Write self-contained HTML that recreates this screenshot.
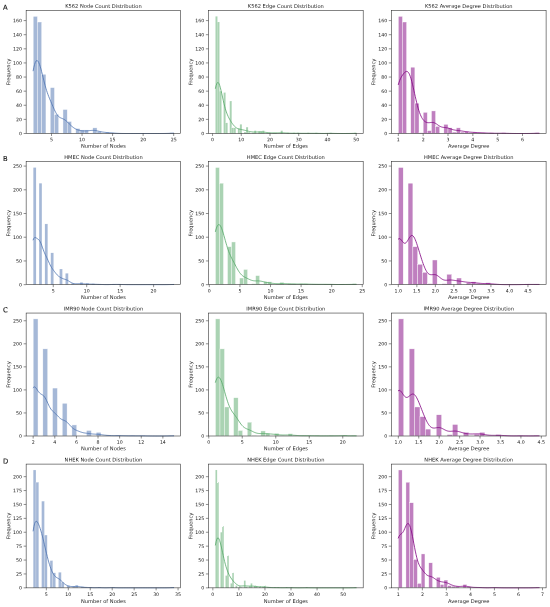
<!DOCTYPE html>
<html><head><meta charset="utf-8"><title>Graph distributions</title>
<style>html,body{margin:0;padding:0;background:#fff}svg{display:block;text-rendering:geometricPrecision}.k{font-size:4.7px}</style></head>
<body>
<svg width="550" height="607" viewBox="0 0 550 607" font-family="'DejaVu Sans','Liberation Sans',sans-serif" fill="#1a1a1a">
<rect width="550" height="607" fill="#fff"/>
<g>
<rect x="33.17" y="16.36" width="4.26" height="117.14" fill="#4c72b0" fill-opacity="0.5" stroke="#fff" stroke-width="0.400"/>
<rect x="37.43" y="22.00" width="4.26" height="111.50" fill="#4c72b0" fill-opacity="0.5" stroke="#fff" stroke-width="0.400"/>
<rect x="41.69" y="74.22" width="4.26" height="59.28" fill="#4c72b0" fill-opacity="0.5" stroke="#fff" stroke-width="0.400"/>
<rect x="50.21" y="87.63" width="4.26" height="45.87" fill="#4c72b0" fill-opacity="0.5" stroke="#fff" stroke-width="0.400"/>
<rect x="54.46" y="114.45" width="4.26" height="19.05" fill="#4c72b0" fill-opacity="0.5" stroke="#fff" stroke-width="0.400"/>
<rect x="62.98" y="109.51" width="4.26" height="23.99" fill="#4c72b0" fill-opacity="0.5" stroke="#fff" stroke-width="0.400"/>
<rect x="67.24" y="121.50" width="4.26" height="12.00" fill="#4c72b0" fill-opacity="0.5" stroke="#fff" stroke-width="0.400"/>
<rect x="75.75" y="128.56" width="4.26" height="4.94" fill="#4c72b0" fill-opacity="0.5" stroke="#fff" stroke-width="0.400"/>
<rect x="80.01" y="129.97" width="4.26" height="3.53" fill="#4c72b0" fill-opacity="0.5" stroke="#fff" stroke-width="0.400"/>
<rect x="84.27" y="129.97" width="4.26" height="3.53" fill="#4c72b0" fill-opacity="0.5" stroke="#fff" stroke-width="0.400"/>
<rect x="92.78" y="127.85" width="4.26" height="5.65" fill="#4c72b0" fill-opacity="0.5" stroke="#fff" stroke-width="0.400"/>
<rect x="97.04" y="131.38" width="4.26" height="2.12" fill="#4c72b0" fill-opacity="0.5" stroke="#fff" stroke-width="0.400"/>
<rect x="105.55" y="132.09" width="4.26" height="1.41" fill="#4c72b0" fill-opacity="0.5" stroke="#fff" stroke-width="0.400"/>
<rect x="109.81" y="132.79" width="4.26" height="0.71" fill="#4c72b0" fill-opacity="0.5" stroke="#fff" stroke-width="0.400"/>
<rect x="169.42" y="132.79" width="4.26" height="0.71" fill="#4c72b0" fill-opacity="0.5" stroke="#fff" stroke-width="0.400"/>
<polyline points="33.17,70.77 33.88,67.21 34.59,64.41 35.29,62.40 36.00,61.14 36.71,60.59 37.41,60.70 38.12,61.42 38.82,62.67 39.53,64.39 40.24,66.52 40.94,68.96 41.65,71.65 42.35,74.48 43.06,77.38 43.77,80.25 44.47,83.04 45.18,85.69 45.88,88.18 46.59,90.49 47.30,92.63 48.00,94.62 48.71,96.47 49.41,98.23 50.12,99.92 50.83,101.58 51.53,103.22 52.24,104.86 52.94,106.49 53.65,108.10 54.36,109.66 55.06,111.14 55.77,112.52 56.47,113.75 57.18,114.83 57.89,115.74 58.59,116.49 59.30,117.08 60.00,117.54 60.71,117.90 61.42,118.20 62.12,118.48 62.83,118.77 63.53,119.10 64.24,119.49 64.95,119.95 65.65,120.47 66.36,121.07 67.06,121.71 67.77,122.39 68.48,123.09 69.18,123.80 69.89,124.49 70.59,125.17 71.30,125.83 72.01,126.45 72.71,127.03 73.42,127.57 74.12,128.06 74.83,128.51 75.54,128.91 76.24,129.27 76.95,129.58 77.65,129.84 78.36,130.07 79.07,130.26 79.77,130.43 80.48,130.56 81.19,130.66 81.89,130.75 82.60,130.81 83.30,130.85 84.01,130.88 84.72,130.89 85.42,130.89 86.13,130.87 86.83,130.83 87.54,130.79 88.25,130.73 88.95,130.66 89.66,130.59 90.36,130.52 91.07,130.46 91.78,130.41 92.48,130.38 93.19,130.38 93.89,130.40 94.60,130.45 95.31,130.54 96.01,130.65 96.72,130.78 97.42,130.94 98.13,131.10 98.84,131.27 99.54,131.43 100.25,131.59 100.95,131.74 101.66,131.87 102.37,132.00 103.07,132.11 103.78,132.20 104.48,132.29 105.19,132.37 105.90,132.44 106.60,132.51 107.31,132.57 108.01,132.63 108.72,132.69 109.43,132.75 110.13,132.81 110.84,132.87 111.54,132.92 112.25,132.98 112.96,133.03 113.66,133.08 114.37,133.14 115.07,133.19 115.78,133.23 116.49,133.28 117.19,133.32 117.90,133.35 118.60,133.38 119.31,133.41 120.02,133.43 120.72,133.45 121.43,133.46 122.13,133.48 122.84,133.48 123.55,133.49 124.25,133.49 124.96,133.50 125.66,133.50 126.37,133.50 127.08,133.50 127.78,133.50 128.49,133.50 129.20,133.50 129.90,133.50 130.61,133.50 131.31,133.50 132.02,133.50 132.73,133.50 133.43,133.50 134.14,133.50 134.84,133.50 135.55,133.50 136.26,133.50 136.96,133.50 137.67,133.50 138.37,133.50 139.08,133.50 139.79,133.50 140.49,133.50 141.20,133.50 141.90,133.50 142.61,133.50 143.32,133.50 144.02,133.50 144.73,133.50 145.43,133.50 146.14,133.50 146.85,133.50 147.55,133.50 148.26,133.50 148.96,133.50 149.67,133.50 150.38,133.50 151.08,133.50 151.79,133.50 152.49,133.50 153.20,133.50 153.91,133.50 154.61,133.50 155.32,133.50 156.02,133.50 156.73,133.50 157.44,133.50 158.14,133.50 158.85,133.50 159.55,133.50 160.26,133.50 160.97,133.50 161.67,133.49 162.38,133.49 163.08,133.49 163.79,133.48 164.50,133.47 165.20,133.46 165.91,133.45 166.61,133.43 167.32,133.41 168.03,133.38 168.73,133.36 169.44,133.33 170.14,133.30 170.85,133.28 171.56,133.25 172.26,133.24 172.97,133.23 173.68,133.22" fill="none" stroke="#4c72b0" stroke-width="0.8" stroke-linejoin="round" stroke-linecap="round"/>
<rect x="26.15" y="10.50" width="154.55" height="123.00" fill="none" stroke="#2e2e2e" stroke-width="0.58"/>
<line x1="51.50" y1="133.50" x2="51.50" y2="136.00" stroke="#2e2e2e" stroke-width="0.53"/>
<text transform="translate(51.50,141.25) rotate(.1)" class="k" text-anchor="middle">5</text>
<line x1="82.04" y1="133.50" x2="82.04" y2="136.00" stroke="#2e2e2e" stroke-width="0.53"/>
<text transform="translate(82.04,141.25) rotate(.1)" class="k" text-anchor="middle">10</text>
<line x1="112.59" y1="133.50" x2="112.59" y2="136.00" stroke="#2e2e2e" stroke-width="0.53"/>
<text transform="translate(112.59,141.25) rotate(.1)" class="k" text-anchor="middle">15</text>
<line x1="143.13" y1="133.50" x2="143.13" y2="136.00" stroke="#2e2e2e" stroke-width="0.53"/>
<text transform="translate(143.13,141.25) rotate(.1)" class="k" text-anchor="middle">20</text>
<line x1="173.68" y1="133.50" x2="173.68" y2="136.00" stroke="#2e2e2e" stroke-width="0.53"/>
<text transform="translate(173.68,141.25) rotate(.1)" class="k" text-anchor="middle">25</text>
<line x1="23.65" y1="133.50" x2="26.15" y2="133.50" stroke="#2e2e2e" stroke-width="0.53"/>
<text transform="translate(22.05,135.25) rotate(.1)" class="k" text-anchor="end">0</text>
<line x1="23.65" y1="119.39" x2="26.15" y2="119.39" stroke="#2e2e2e" stroke-width="0.53"/>
<text transform="translate(22.05,121.14) rotate(.1)" class="k" text-anchor="end">20</text>
<line x1="23.65" y1="105.27" x2="26.15" y2="105.27" stroke="#2e2e2e" stroke-width="0.53"/>
<text transform="translate(22.05,107.02) rotate(.1)" class="k" text-anchor="end">40</text>
<line x1="23.65" y1="91.16" x2="26.15" y2="91.16" stroke="#2e2e2e" stroke-width="0.53"/>
<text transform="translate(22.05,92.91) rotate(.1)" class="k" text-anchor="end">60</text>
<line x1="23.65" y1="77.05" x2="26.15" y2="77.05" stroke="#2e2e2e" stroke-width="0.53"/>
<text transform="translate(22.05,78.80) rotate(.1)" class="k" text-anchor="end">80</text>
<line x1="23.65" y1="62.93" x2="26.15" y2="62.93" stroke="#2e2e2e" stroke-width="0.53"/>
<text transform="translate(22.05,64.68) rotate(.1)" class="k" text-anchor="end">100</text>
<line x1="23.65" y1="48.82" x2="26.15" y2="48.82" stroke="#2e2e2e" stroke-width="0.53"/>
<text transform="translate(22.05,50.57) rotate(.1)" class="k" text-anchor="end">120</text>
<line x1="23.65" y1="34.70" x2="26.15" y2="34.70" stroke="#2e2e2e" stroke-width="0.53"/>
<text transform="translate(22.05,36.45) rotate(.1)" class="k" text-anchor="end">140</text>
<line x1="23.65" y1="20.59" x2="26.15" y2="20.59" stroke="#2e2e2e" stroke-width="0.53"/>
<text transform="translate(22.05,22.34) rotate(.1)" class="k" text-anchor="end">160</text>
<text transform="translate(103.43,7.90) rotate(.1)" font-size="5.13" text-anchor="middle">K562 Node Count Distribution</text>
<text transform="translate(103.43,147.80) rotate(.1)" font-size="5.13" text-anchor="middle">Number of Nodes</text>
<text transform="translate(10.15,72.00) rotate(-89.9)" font-size="5.13" text-anchor="middle">Frequency</text>
</g>
<g>
<rect x="215.44" y="16.36" width="2.04" height="117.14" fill="#55a868" fill-opacity="0.5" stroke="#fff" stroke-width="0.104"/>
<rect x="217.48" y="22.00" width="2.04" height="111.50" fill="#55a868" fill-opacity="0.5" stroke="#fff" stroke-width="0.104"/>
<rect x="219.52" y="91.16" width="2.04" height="42.34" fill="#55a868" fill-opacity="0.5" stroke="#fff" stroke-width="0.104"/>
<rect x="223.59" y="92.57" width="2.04" height="40.93" fill="#55a868" fill-opacity="0.5" stroke="#fff" stroke-width="0.104"/>
<rect x="225.63" y="122.91" width="2.04" height="10.59" fill="#55a868" fill-opacity="0.5" stroke="#fff" stroke-width="0.104"/>
<rect x="229.71" y="101.04" width="2.04" height="32.46" fill="#55a868" fill-opacity="0.5" stroke="#fff" stroke-width="0.104"/>
<rect x="231.75" y="127.85" width="2.04" height="5.65" fill="#55a868" fill-opacity="0.5" stroke="#fff" stroke-width="0.104"/>
<rect x="233.79" y="127.85" width="2.04" height="5.65" fill="#55a868" fill-opacity="0.5" stroke="#fff" stroke-width="0.104"/>
<rect x="237.87" y="128.56" width="2.04" height="4.94" fill="#55a868" fill-opacity="0.5" stroke="#fff" stroke-width="0.104"/>
<rect x="239.91" y="124.33" width="2.04" height="9.17" fill="#55a868" fill-opacity="0.5" stroke="#fff" stroke-width="0.104"/>
<rect x="243.99" y="132.09" width="2.04" height="1.41" fill="#55a868" fill-opacity="0.5" stroke="#fff" stroke-width="0.104"/>
<rect x="246.03" y="127.15" width="2.04" height="6.35" fill="#55a868" fill-opacity="0.5" stroke="#fff" stroke-width="0.104"/>
<rect x="248.07" y="132.09" width="2.04" height="1.41" fill="#55a868" fill-opacity="0.5" stroke="#fff" stroke-width="0.104"/>
<rect x="252.15" y="132.79" width="2.04" height="0.71" fill="#55a868" fill-opacity="0.5" stroke="#fff" stroke-width="0.104"/>
<rect x="254.19" y="130.68" width="2.04" height="2.82" fill="#55a868" fill-opacity="0.5" stroke="#fff" stroke-width="0.104"/>
<rect x="258.27" y="131.38" width="2.04" height="2.12" fill="#55a868" fill-opacity="0.5" stroke="#fff" stroke-width="0.104"/>
<rect x="260.31" y="131.38" width="2.04" height="2.12" fill="#55a868" fill-opacity="0.5" stroke="#fff" stroke-width="0.104"/>
<rect x="262.35" y="130.68" width="2.04" height="2.82" fill="#55a868" fill-opacity="0.5" stroke="#fff" stroke-width="0.104"/>
<rect x="266.42" y="132.79" width="2.04" height="0.71" fill="#55a868" fill-opacity="0.5" stroke="#fff" stroke-width="0.104"/>
<rect x="268.46" y="132.79" width="2.04" height="0.71" fill="#55a868" fill-opacity="0.5" stroke="#fff" stroke-width="0.104"/>
<rect x="272.54" y="132.79" width="2.04" height="0.71" fill="#55a868" fill-opacity="0.5" stroke="#fff" stroke-width="0.104"/>
<rect x="274.58" y="132.79" width="2.04" height="0.71" fill="#55a868" fill-opacity="0.5" stroke="#fff" stroke-width="0.104"/>
<rect x="280.70" y="130.68" width="2.04" height="2.82" fill="#55a868" fill-opacity="0.5" stroke="#fff" stroke-width="0.104"/>
<rect x="286.82" y="132.79" width="2.04" height="0.71" fill="#55a868" fill-opacity="0.5" stroke="#fff" stroke-width="0.104"/>
<rect x="292.94" y="132.79" width="2.04" height="0.71" fill="#55a868" fill-opacity="0.5" stroke="#fff" stroke-width="0.104"/>
<rect x="297.02" y="132.79" width="2.04" height="0.71" fill="#55a868" fill-opacity="0.5" stroke="#fff" stroke-width="0.104"/>
<rect x="307.22" y="132.79" width="2.04" height="0.71" fill="#55a868" fill-opacity="0.5" stroke="#fff" stroke-width="0.104"/>
<rect x="315.37" y="132.79" width="2.04" height="0.71" fill="#55a868" fill-opacity="0.5" stroke="#fff" stroke-width="0.104"/>
<rect x="329.65" y="132.79" width="2.04" height="0.71" fill="#55a868" fill-opacity="0.5" stroke="#fff" stroke-width="0.104"/>
<rect x="354.12" y="132.79" width="2.04" height="0.71" fill="#55a868" fill-opacity="0.5" stroke="#fff" stroke-width="0.104"/>
<polyline points="215.44,88.38 216.14,85.49 216.85,83.54 217.56,82.58 218.27,82.62 218.97,83.59 219.68,85.37 220.39,87.79 221.09,90.67 221.80,93.82 222.51,97.07 223.22,100.28 223.92,103.35 224.63,106.18 225.34,108.76 226.04,111.05 226.75,113.08 227.46,114.86 228.17,116.45 228.87,117.88 229.58,119.19 230.29,120.41 230.99,121.56 231.70,122.64 232.41,123.67 233.12,124.63 233.82,125.51 234.53,126.29 235.24,126.97 235.94,127.55 236.65,128.02 237.36,128.39 238.07,128.69 238.77,128.93 239.48,129.12 240.19,129.28 240.89,129.43 241.60,129.58 242.31,129.73 243.02,129.88 243.72,130.04 244.43,130.21 245.14,130.39 245.84,130.56 246.55,130.74 247.26,130.92 247.97,131.10 248.67,131.27 249.38,131.43 250.09,131.58 250.79,131.71 251.50,131.82 252.21,131.91 252.92,131.97 253.62,132.01 254.33,132.03 255.04,132.04 255.75,132.03 256.45,132.02 257.16,132.00 257.87,131.98 258.57,131.97 259.28,131.97 259.99,131.97 260.70,131.98 261.40,132.00 262.11,132.04 262.82,132.08 263.52,132.14 264.23,132.20 264.94,132.27 265.65,132.35 266.35,132.44 267.06,132.52 267.77,132.60 268.47,132.68 269.18,132.75 269.89,132.81 270.60,132.86 271.30,132.90 272.01,132.93 272.72,132.96 273.42,132.97 274.13,132.98 274.84,132.98 275.55,132.97 276.25,132.95 276.96,132.93 277.67,132.90 278.37,132.87 279.08,132.85 279.79,132.82 280.50,132.81 281.20,132.81 281.91,132.81 282.62,132.83 283.32,132.86 284.03,132.90 284.74,132.94 285.45,132.98 286.15,133.03 286.86,133.07 287.57,133.11 288.28,133.15 288.98,133.17 289.69,133.20 290.40,133.21 291.10,133.23 291.81,133.23 292.52,133.24 293.23,133.25 293.93,133.25 294.64,133.25 295.35,133.26 296.05,133.26 296.76,133.27 297.47,133.27 298.18,133.28 298.88,133.29 299.59,133.30 300.30,133.31 301.00,133.32 301.71,133.32 302.42,133.33 303.13,133.33 303.83,133.33 304.54,133.33 305.25,133.33 305.95,133.33 306.66,133.33 307.37,133.33 308.08,133.33 308.78,133.33 309.49,133.33 310.20,133.34 310.90,133.34 311.61,133.34 312.32,133.34 313.03,133.34 313.73,133.34 314.44,133.34 315.15,133.34 315.85,133.34 316.56,133.35 317.27,133.36 317.98,133.37 318.68,133.38 319.39,133.40 320.10,133.41 320.81,133.42 321.51,133.43 322.22,133.44 322.93,133.44 323.63,133.44 324.34,133.44 325.05,133.43 325.76,133.42 326.46,133.41 327.17,133.39 327.88,133.38 328.58,133.37 329.29,133.36 330.00,133.36 330.71,133.36 331.41,133.36 332.12,133.37 332.83,133.38 333.53,133.40 334.24,133.41 334.95,133.43 335.66,133.44 336.36,133.45 337.07,133.47 337.78,133.47 338.48,133.48 339.19,133.49 339.90,133.49 340.61,133.49 341.31,133.50 342.02,133.50 342.73,133.50 343.43,133.50 344.14,133.50 344.85,133.50 345.56,133.50 346.26,133.49 346.97,133.49 347.68,133.48 348.38,133.48 349.09,133.47 349.80,133.46 350.51,133.45 351.21,133.43 351.92,133.42 352.63,133.40 353.33,133.39 354.04,133.38 354.75,133.37 355.46,133.36 356.16,133.36" fill="none" stroke="#55a868" stroke-width="0.8" stroke-linejoin="round" stroke-linecap="round"/>
<rect x="208.40" y="10.50" width="154.80" height="123.00" fill="none" stroke="#2e2e2e" stroke-width="0.58"/>
<line x1="212.56" y1="133.50" x2="212.56" y2="136.00" stroke="#2e2e2e" stroke-width="0.53"/>
<text transform="translate(212.56,141.25) rotate(.1)" class="k" text-anchor="middle">0</text>
<line x1="241.28" y1="133.50" x2="241.28" y2="136.00" stroke="#2e2e2e" stroke-width="0.53"/>
<text transform="translate(241.28,141.25) rotate(.1)" class="k" text-anchor="middle">10</text>
<line x1="270.00" y1="133.50" x2="270.00" y2="136.00" stroke="#2e2e2e" stroke-width="0.53"/>
<text transform="translate(270.00,141.25) rotate(.1)" class="k" text-anchor="middle">20</text>
<line x1="298.72" y1="133.50" x2="298.72" y2="136.00" stroke="#2e2e2e" stroke-width="0.53"/>
<text transform="translate(298.72,141.25) rotate(.1)" class="k" text-anchor="middle">30</text>
<line x1="327.44" y1="133.50" x2="327.44" y2="136.00" stroke="#2e2e2e" stroke-width="0.53"/>
<text transform="translate(327.44,141.25) rotate(.1)" class="k" text-anchor="middle">40</text>
<line x1="356.16" y1="133.50" x2="356.16" y2="136.00" stroke="#2e2e2e" stroke-width="0.53"/>
<text transform="translate(356.16,141.25) rotate(.1)" class="k" text-anchor="middle">50</text>
<line x1="205.90" y1="133.50" x2="208.40" y2="133.50" stroke="#2e2e2e" stroke-width="0.53"/>
<text transform="translate(204.30,135.25) rotate(.1)" class="k" text-anchor="end">0</text>
<line x1="205.90" y1="119.39" x2="208.40" y2="119.39" stroke="#2e2e2e" stroke-width="0.53"/>
<text transform="translate(204.30,121.14) rotate(.1)" class="k" text-anchor="end">20</text>
<line x1="205.90" y1="105.27" x2="208.40" y2="105.27" stroke="#2e2e2e" stroke-width="0.53"/>
<text transform="translate(204.30,107.02) rotate(.1)" class="k" text-anchor="end">40</text>
<line x1="205.90" y1="91.16" x2="208.40" y2="91.16" stroke="#2e2e2e" stroke-width="0.53"/>
<text transform="translate(204.30,92.91) rotate(.1)" class="k" text-anchor="end">60</text>
<line x1="205.90" y1="77.05" x2="208.40" y2="77.05" stroke="#2e2e2e" stroke-width="0.53"/>
<text transform="translate(204.30,78.80) rotate(.1)" class="k" text-anchor="end">80</text>
<line x1="205.90" y1="62.93" x2="208.40" y2="62.93" stroke="#2e2e2e" stroke-width="0.53"/>
<text transform="translate(204.30,64.68) rotate(.1)" class="k" text-anchor="end">100</text>
<line x1="205.90" y1="48.82" x2="208.40" y2="48.82" stroke="#2e2e2e" stroke-width="0.53"/>
<text transform="translate(204.30,50.57) rotate(.1)" class="k" text-anchor="end">120</text>
<line x1="205.90" y1="34.70" x2="208.40" y2="34.70" stroke="#2e2e2e" stroke-width="0.53"/>
<text transform="translate(204.30,36.45) rotate(.1)" class="k" text-anchor="end">140</text>
<line x1="205.90" y1="20.59" x2="208.40" y2="20.59" stroke="#2e2e2e" stroke-width="0.53"/>
<text transform="translate(204.30,22.34) rotate(.1)" class="k" text-anchor="end">160</text>
<text transform="translate(285.80,7.90) rotate(.1)" font-size="5.13" text-anchor="middle">K562 Edge Count Distribution</text>
<text transform="translate(285.80,147.80) rotate(.1)" font-size="5.13" text-anchor="middle">Number of Edges</text>
<text transform="translate(192.40,72.00) rotate(-89.9)" font-size="5.13" text-anchor="middle">Frequency</text>
</g>
<g>
<rect x="398.34" y="16.36" width="4.14" height="117.14" fill="#800080" fill-opacity="0.5" stroke="#fff" stroke-width="0.400"/>
<rect x="402.48" y="22.00" width="4.14" height="111.50" fill="#800080" fill-opacity="0.5" stroke="#fff" stroke-width="0.400"/>
<rect x="410.75" y="67.17" width="4.14" height="66.33" fill="#800080" fill-opacity="0.5" stroke="#fff" stroke-width="0.400"/>
<rect x="414.89" y="103.16" width="4.14" height="30.34" fill="#800080" fill-opacity="0.5" stroke="#fff" stroke-width="0.400"/>
<rect x="419.03" y="132.79" width="4.14" height="0.71" fill="#800080" fill-opacity="0.5" stroke="#fff" stroke-width="0.400"/>
<rect x="423.17" y="112.33" width="4.14" height="21.17" fill="#800080" fill-opacity="0.5" stroke="#fff" stroke-width="0.400"/>
<rect x="427.31" y="130.68" width="4.14" height="2.82" fill="#800080" fill-opacity="0.5" stroke="#fff" stroke-width="0.400"/>
<rect x="431.45" y="110.92" width="4.14" height="22.58" fill="#800080" fill-opacity="0.5" stroke="#fff" stroke-width="0.400"/>
<rect x="435.59" y="126.44" width="4.14" height="7.06" fill="#800080" fill-opacity="0.5" stroke="#fff" stroke-width="0.400"/>
<rect x="443.87" y="124.33" width="4.14" height="9.17" fill="#800080" fill-opacity="0.5" stroke="#fff" stroke-width="0.400"/>
<rect x="448.00" y="127.85" width="4.14" height="5.65" fill="#800080" fill-opacity="0.5" stroke="#fff" stroke-width="0.400"/>
<rect x="452.14" y="132.09" width="4.14" height="1.41" fill="#800080" fill-opacity="0.5" stroke="#fff" stroke-width="0.400"/>
<rect x="456.28" y="127.85" width="4.14" height="5.65" fill="#800080" fill-opacity="0.5" stroke="#fff" stroke-width="0.400"/>
<rect x="460.42" y="132.09" width="4.14" height="1.41" fill="#800080" fill-opacity="0.5" stroke="#fff" stroke-width="0.400"/>
<rect x="464.56" y="131.38" width="4.14" height="2.12" fill="#800080" fill-opacity="0.5" stroke="#fff" stroke-width="0.400"/>
<rect x="468.70" y="132.79" width="4.14" height="0.71" fill="#800080" fill-opacity="0.5" stroke="#fff" stroke-width="0.400"/>
<rect x="472.84" y="132.09" width="4.14" height="1.41" fill="#800080" fill-opacity="0.5" stroke="#fff" stroke-width="0.400"/>
<rect x="476.98" y="132.79" width="4.14" height="0.71" fill="#800080" fill-opacity="0.5" stroke="#fff" stroke-width="0.400"/>
<rect x="481.12" y="132.79" width="4.14" height="0.71" fill="#800080" fill-opacity="0.5" stroke="#fff" stroke-width="0.400"/>
<rect x="489.40" y="132.79" width="4.14" height="0.71" fill="#800080" fill-opacity="0.5" stroke="#fff" stroke-width="0.400"/>
<rect x="501.81" y="132.79" width="4.14" height="0.71" fill="#800080" fill-opacity="0.5" stroke="#fff" stroke-width="0.400"/>
<rect x="534.92" y="132.79" width="4.14" height="0.71" fill="#800080" fill-opacity="0.5" stroke="#fff" stroke-width="0.400"/>
<polyline points="398.34,84.58 399.04,82.29 399.75,80.35 400.46,78.71 401.17,77.31 401.87,76.10 402.58,75.02 403.29,74.05 403.99,73.19 404.70,72.45 405.41,71.87 406.12,71.50 406.82,71.42 407.53,71.66 408.24,72.29 408.94,73.32 409.65,74.77 410.36,76.62 411.07,78.85 411.77,81.40 412.48,84.21 413.19,87.22 413.89,90.36 414.60,93.54 415.31,96.71 416.02,99.80 416.72,102.76 417.43,105.54 418.14,108.12 418.84,110.46 419.55,112.56 420.26,114.42 420.97,116.04 421.67,117.45 422.38,118.64 423.09,119.65 423.79,120.49 424.50,121.17 425.21,121.71 425.92,122.13 426.62,122.42 427.33,122.60 428.04,122.69 428.74,122.70 429.45,122.66 430.16,122.58 430.87,122.50 431.57,122.44 432.28,122.43 432.99,122.49 433.69,122.63 434.40,122.85 435.11,123.17 435.82,123.56 436.52,124.01 437.23,124.50 437.94,125.00 438.65,125.49 439.35,125.94 440.06,126.35 440.77,126.68 441.47,126.95 442.18,127.16 442.89,127.31 443.60,127.42 444.30,127.50 445.01,127.57 445.72,127.64 446.42,127.74 447.13,127.87 447.84,128.03 448.55,128.22 449.25,128.44 449.96,128.68 450.67,128.92 451.37,129.17 452.08,129.40 452.79,129.61 453.50,129.80 454.20,129.97 454.91,130.10 455.62,130.22 456.32,130.31 457.03,130.40 457.74,130.48 458.45,130.56 459.15,130.64 459.86,130.73 460.57,130.82 461.27,130.92 461.98,131.03 462.69,131.14 463.40,131.25 464.10,131.36 464.81,131.47 465.52,131.58 466.22,131.68 466.93,131.77 467.64,131.86 468.35,131.95 469.05,132.03 469.76,132.10 470.47,132.16 471.18,132.22 471.88,132.27 472.59,132.32 473.30,132.36 474.00,132.39 474.71,132.43 475.42,132.46 476.13,132.49 476.83,132.52 477.54,132.56 478.25,132.59 478.95,132.63 479.66,132.66 480.37,132.70 481.08,132.75 481.78,132.79 482.49,132.83 483.20,132.87 483.90,132.91 484.61,132.94 485.32,132.98 486.03,133.01 486.73,133.04 487.44,133.07 488.15,133.09 488.85,133.11 489.56,133.14 490.27,133.16 490.98,133.18 491.68,133.20 492.39,133.22 493.10,133.23 493.80,133.25 494.51,133.26 495.22,133.27 495.93,133.28 496.63,133.28 497.34,133.28 498.05,133.28 498.75,133.27 499.46,133.27 500.17,133.26 500.88,133.26 501.58,133.25 502.29,133.25 503.00,133.26 503.71,133.26 504.41,133.28 505.12,133.29 505.83,133.31 506.53,133.33 507.24,133.35 507.95,133.37 508.66,133.39 509.36,133.41 510.07,133.42 510.78,133.44 511.48,133.45 512.19,133.46 512.90,133.47 513.61,133.48 514.31,133.49 515.02,133.49 515.73,133.49 516.43,133.50 517.14,133.50 517.85,133.50 518.56,133.50 519.26,133.50 519.97,133.50 520.68,133.50 521.38,133.50 522.09,133.50 522.80,133.50 523.51,133.50 524.21,133.50 524.92,133.50 525.63,133.49 526.33,133.49 527.04,133.49 527.75,133.48 528.46,133.48 529.16,133.47 529.87,133.46 530.58,133.45 531.28,133.43 531.99,133.41 532.70,133.40 533.41,133.38 534.11,133.36 534.82,133.34 535.53,133.32 536.23,133.30 536.94,133.29 537.65,133.27 538.36,133.27 539.06,133.27" fill="none" stroke="#800080" stroke-width="0.8" stroke-linejoin="round" stroke-linecap="round"/>
<rect x="391.30" y="10.50" width="154.80" height="123.00" fill="none" stroke="#2e2e2e" stroke-width="0.58"/>
<line x1="398.34" y1="133.50" x2="398.34" y2="136.00" stroke="#2e2e2e" stroke-width="0.53"/>
<text transform="translate(398.34,141.25) rotate(.1)" class="k" text-anchor="middle">1</text>
<line x1="423.17" y1="133.50" x2="423.17" y2="136.00" stroke="#2e2e2e" stroke-width="0.53"/>
<text transform="translate(423.17,141.25) rotate(.1)" class="k" text-anchor="middle">2</text>
<line x1="448.00" y1="133.50" x2="448.00" y2="136.00" stroke="#2e2e2e" stroke-width="0.53"/>
<text transform="translate(448.00,141.25) rotate(.1)" class="k" text-anchor="middle">3</text>
<line x1="472.84" y1="133.50" x2="472.84" y2="136.00" stroke="#2e2e2e" stroke-width="0.53"/>
<text transform="translate(472.84,141.25) rotate(.1)" class="k" text-anchor="middle">4</text>
<line x1="497.67" y1="133.50" x2="497.67" y2="136.00" stroke="#2e2e2e" stroke-width="0.53"/>
<text transform="translate(497.67,141.25) rotate(.1)" class="k" text-anchor="middle">5</text>
<line x1="522.51" y1="133.50" x2="522.51" y2="136.00" stroke="#2e2e2e" stroke-width="0.53"/>
<text transform="translate(522.51,141.25) rotate(.1)" class="k" text-anchor="middle">6</text>
<line x1="388.80" y1="133.50" x2="391.30" y2="133.50" stroke="#2e2e2e" stroke-width="0.53"/>
<text transform="translate(387.20,135.25) rotate(.1)" class="k" text-anchor="end">0</text>
<line x1="388.80" y1="119.39" x2="391.30" y2="119.39" stroke="#2e2e2e" stroke-width="0.53"/>
<text transform="translate(387.20,121.14) rotate(.1)" class="k" text-anchor="end">20</text>
<line x1="388.80" y1="105.27" x2="391.30" y2="105.27" stroke="#2e2e2e" stroke-width="0.53"/>
<text transform="translate(387.20,107.02) rotate(.1)" class="k" text-anchor="end">40</text>
<line x1="388.80" y1="91.16" x2="391.30" y2="91.16" stroke="#2e2e2e" stroke-width="0.53"/>
<text transform="translate(387.20,92.91) rotate(.1)" class="k" text-anchor="end">60</text>
<line x1="388.80" y1="77.05" x2="391.30" y2="77.05" stroke="#2e2e2e" stroke-width="0.53"/>
<text transform="translate(387.20,78.80) rotate(.1)" class="k" text-anchor="end">80</text>
<line x1="388.80" y1="62.93" x2="391.30" y2="62.93" stroke="#2e2e2e" stroke-width="0.53"/>
<text transform="translate(387.20,64.68) rotate(.1)" class="k" text-anchor="end">100</text>
<line x1="388.80" y1="48.82" x2="391.30" y2="48.82" stroke="#2e2e2e" stroke-width="0.53"/>
<text transform="translate(387.20,50.57) rotate(.1)" class="k" text-anchor="end">120</text>
<line x1="388.80" y1="34.70" x2="391.30" y2="34.70" stroke="#2e2e2e" stroke-width="0.53"/>
<text transform="translate(387.20,36.45) rotate(.1)" class="k" text-anchor="end">140</text>
<line x1="388.80" y1="20.59" x2="391.30" y2="20.59" stroke="#2e2e2e" stroke-width="0.53"/>
<text transform="translate(387.20,22.34) rotate(.1)" class="k" text-anchor="end">160</text>
<text transform="translate(468.70,7.90) rotate(.1)" font-size="5.13" text-anchor="middle">K562 Average Degree Distribution</text>
<text transform="translate(468.70,147.80) rotate(.1)" font-size="5.13" text-anchor="middle">Average Degree</text>
<text transform="translate(375.30,72.00) rotate(-89.9)" font-size="5.13" text-anchor="middle">Frequency</text>
</g>
<text transform="translate(3.1,9.80) rotate(.1)" font-size="6.8" fill="#111" stroke="#111" stroke-width=".12">A</text>
<g>
<rect x="33.17" y="167.51" width="2.93" height="117.14" fill="#4c72b0" fill-opacity="0.5" stroke="#fff" stroke-width="0.214"/>
<rect x="39.03" y="183.16" width="2.93" height="101.49" fill="#4c72b0" fill-opacity="0.5" stroke="#fff" stroke-width="0.214"/>
<rect x="44.88" y="223.94" width="2.93" height="60.71" fill="#4c72b0" fill-opacity="0.5" stroke="#fff" stroke-width="0.214"/>
<rect x="50.74" y="252.87" width="2.93" height="31.78" fill="#4c72b0" fill-opacity="0.5" stroke="#fff" stroke-width="0.214"/>
<rect x="59.52" y="269.00" width="2.93" height="15.65" fill="#4c72b0" fill-opacity="0.5" stroke="#fff" stroke-width="0.214"/>
<rect x="65.37" y="273.27" width="2.93" height="11.38" fill="#4c72b0" fill-opacity="0.5" stroke="#fff" stroke-width="0.214"/>
<rect x="71.23" y="283.23" width="2.93" height="1.42" fill="#4c72b0" fill-opacity="0.5" stroke="#fff" stroke-width="0.214"/>
<rect x="80.01" y="282.28" width="2.93" height="2.37" fill="#4c72b0" fill-opacity="0.5" stroke="#fff" stroke-width="0.214"/>
<rect x="85.86" y="283.23" width="2.93" height="1.42" fill="#4c72b0" fill-opacity="0.5" stroke="#fff" stroke-width="0.214"/>
<rect x="91.72" y="283.70" width="2.93" height="0.95" fill="#4c72b0" fill-opacity="0.5" stroke="#fff" stroke-width="0.214"/>
<rect x="97.57" y="284.18" width="2.93" height="0.47" fill="#4c72b0" fill-opacity="0.5" stroke="#fff" stroke-width="0.214"/>
<rect x="112.21" y="284.18" width="2.93" height="0.47" fill="#4c72b0" fill-opacity="0.5" stroke="#fff" stroke-width="0.214"/>
<rect x="118.06" y="284.18" width="2.93" height="0.47" fill="#4c72b0" fill-opacity="0.5" stroke="#fff" stroke-width="0.214"/>
<rect x="170.75" y="284.18" width="2.93" height="0.47" fill="#4c72b0" fill-opacity="0.5" stroke="#fff" stroke-width="0.214"/>
<polyline points="33.17,239.89 33.88,238.29 34.59,237.57 35.29,237.49 36.00,237.78 36.71,238.23 37.41,238.71 38.12,239.21 38.82,239.81 39.53,240.65 40.24,241.81 40.94,243.34 41.65,245.16 42.35,247.16 43.06,249.17 43.77,251.07 44.47,252.81 45.18,254.37 45.88,255.83 46.59,257.27 47.30,258.76 48.00,260.30 48.71,261.89 49.41,263.46 50.12,264.94 50.83,266.28 51.53,267.48 52.24,268.54 52.94,269.52 53.65,270.46 54.36,271.40 55.06,272.33 55.77,273.25 56.47,274.11 57.18,274.90 57.89,275.59 58.59,276.19 59.30,276.70 60.00,277.15 60.71,277.55 61.42,277.93 62.12,278.27 62.83,278.58 63.53,278.86 64.24,279.10 64.95,279.32 65.65,279.55 66.36,279.81 67.06,280.11 67.77,280.47 68.48,280.89 69.18,281.34 69.89,281.80 70.59,282.24 71.30,282.64 72.01,282.98 72.71,283.26 73.42,283.47 74.12,283.62 74.83,283.72 75.54,283.77 76.24,283.78 76.95,283.78 77.65,283.76 78.36,283.73 79.07,283.71 79.77,283.70 80.48,283.70 81.19,283.72 81.89,283.75 82.60,283.79 83.30,283.83 84.01,283.87 84.72,283.91 85.42,283.94 86.13,283.97 86.83,284.00 87.54,284.03 88.25,284.06 88.95,284.09 89.66,284.12 90.36,284.15 91.07,284.17 91.78,284.19 92.48,284.21 93.19,284.23 93.89,284.25 94.60,284.27 95.31,284.29 96.01,284.32 96.72,284.34 97.42,284.36 98.13,284.39 98.84,284.41 99.54,284.43 100.25,284.44 100.95,284.47 101.66,284.49 102.37,284.51 103.07,284.53 103.78,284.55 104.48,284.57 105.19,284.59 105.90,284.60 106.60,284.60 107.31,284.60 108.01,284.59 108.72,284.58 109.43,284.56 110.13,284.54 110.84,284.52 111.54,284.50 112.25,284.49 112.96,284.47 113.66,284.46 114.37,284.46 115.07,284.45 115.78,284.45 116.49,284.45 117.19,284.45 117.90,284.45 118.60,284.45 119.31,284.46 120.02,284.46 120.72,284.47 121.43,284.49 122.13,284.51 122.84,284.53 123.55,284.55 124.25,284.57 124.96,284.59 125.66,284.60 126.37,284.62 127.08,284.63 127.78,284.64 128.49,284.64 129.20,284.64 129.90,284.65 130.61,284.65 131.31,284.65 132.02,284.65 132.73,284.65 133.43,284.65 134.14,284.65 134.84,284.65 135.55,284.65 136.26,284.65 136.96,284.65 137.67,284.65 138.37,284.65 139.08,284.65 139.79,284.65 140.49,284.65 141.20,284.65 141.90,284.65 142.61,284.65 143.32,284.65 144.02,284.65 144.73,284.65 145.43,284.65 146.14,284.65 146.85,284.65 147.55,284.65 148.26,284.65 148.96,284.65 149.67,284.65 150.38,284.65 151.08,284.65 151.79,284.65 152.49,284.65 153.20,284.65 153.91,284.65 154.61,284.65 155.32,284.65 156.02,284.65 156.73,284.65 157.44,284.65 158.14,284.65 158.85,284.65 159.55,284.65 160.26,284.65 160.97,284.65 161.67,284.65 162.38,284.65 163.08,284.65 163.79,284.65 164.50,284.65 165.20,284.64 165.91,284.64 166.61,284.63 167.32,284.62 168.03,284.61 168.73,284.59 169.44,284.57 170.14,284.55 170.85,284.54 171.56,284.52 172.26,284.50 172.97,284.49 173.68,284.49" fill="none" stroke="#4c72b0" stroke-width="0.8" stroke-linejoin="round" stroke-linecap="round"/>
<rect x="26.15" y="161.65" width="154.55" height="123.00" fill="none" stroke="#2e2e2e" stroke-width="0.58"/>
<line x1="53.25" y1="284.65" x2="53.25" y2="287.15" stroke="#2e2e2e" stroke-width="0.53"/>
<text transform="translate(53.25,292.40) rotate(.1)" class="k" text-anchor="middle">5</text>
<line x1="86.70" y1="284.65" x2="86.70" y2="287.15" stroke="#2e2e2e" stroke-width="0.53"/>
<text transform="translate(86.70,292.40) rotate(.1)" class="k" text-anchor="middle">10</text>
<line x1="120.15" y1="284.65" x2="120.15" y2="287.15" stroke="#2e2e2e" stroke-width="0.53"/>
<text transform="translate(120.15,292.40) rotate(.1)" class="k" text-anchor="middle">15</text>
<line x1="153.60" y1="284.65" x2="153.60" y2="287.15" stroke="#2e2e2e" stroke-width="0.53"/>
<text transform="translate(153.60,292.40) rotate(.1)" class="k" text-anchor="middle">20</text>
<line x1="23.65" y1="284.65" x2="26.15" y2="284.65" stroke="#2e2e2e" stroke-width="0.53"/>
<text transform="translate(22.05,286.40) rotate(.1)" class="k" text-anchor="end">0</text>
<line x1="23.65" y1="260.94" x2="26.15" y2="260.94" stroke="#2e2e2e" stroke-width="0.53"/>
<text transform="translate(22.05,262.69) rotate(.1)" class="k" text-anchor="end">50</text>
<line x1="23.65" y1="237.22" x2="26.15" y2="237.22" stroke="#2e2e2e" stroke-width="0.53"/>
<text transform="translate(22.05,238.97) rotate(.1)" class="k" text-anchor="end">100</text>
<line x1="23.65" y1="213.51" x2="26.15" y2="213.51" stroke="#2e2e2e" stroke-width="0.53"/>
<text transform="translate(22.05,215.26) rotate(.1)" class="k" text-anchor="end">150</text>
<line x1="23.65" y1="189.80" x2="26.15" y2="189.80" stroke="#2e2e2e" stroke-width="0.53"/>
<text transform="translate(22.05,191.55) rotate(.1)" class="k" text-anchor="end">200</text>
<line x1="23.65" y1="166.08" x2="26.15" y2="166.08" stroke="#2e2e2e" stroke-width="0.53"/>
<text transform="translate(22.05,167.83) rotate(.1)" class="k" text-anchor="end">250</text>
<text transform="translate(103.43,159.05) rotate(.1)" font-size="5.13" text-anchor="middle">HMEC Node Count Distribution</text>
<text transform="translate(103.43,298.95) rotate(.1)" font-size="5.13" text-anchor="middle">Number of Nodes</text>
<text transform="translate(10.15,223.15) rotate(-89.9)" font-size="5.13" text-anchor="middle">Frequency</text>
</g>
<g>
<rect x="215.44" y="167.51" width="4.02" height="117.14" fill="#55a868" fill-opacity="0.5" stroke="#fff" stroke-width="0.400"/>
<rect x="219.46" y="183.16" width="4.02" height="101.49" fill="#55a868" fill-opacity="0.5" stroke="#fff" stroke-width="0.400"/>
<rect x="227.50" y="246.71" width="4.02" height="37.94" fill="#55a868" fill-opacity="0.5" stroke="#fff" stroke-width="0.400"/>
<rect x="231.52" y="241.97" width="4.02" height="42.68" fill="#55a868" fill-opacity="0.5" stroke="#fff" stroke-width="0.400"/>
<rect x="239.56" y="278.01" width="4.02" height="6.64" fill="#55a868" fill-opacity="0.5" stroke="#fff" stroke-width="0.400"/>
<rect x="243.58" y="269.47" width="4.02" height="15.18" fill="#55a868" fill-opacity="0.5" stroke="#fff" stroke-width="0.400"/>
<rect x="251.62" y="283.70" width="4.02" height="0.95" fill="#55a868" fill-opacity="0.5" stroke="#fff" stroke-width="0.400"/>
<rect x="255.64" y="275.64" width="4.02" height="9.01" fill="#55a868" fill-opacity="0.5" stroke="#fff" stroke-width="0.400"/>
<rect x="263.69" y="281.80" width="4.02" height="2.85" fill="#55a868" fill-opacity="0.5" stroke="#fff" stroke-width="0.400"/>
<rect x="267.71" y="281.80" width="4.02" height="2.85" fill="#55a868" fill-opacity="0.5" stroke="#fff" stroke-width="0.400"/>
<rect x="275.75" y="284.18" width="4.02" height="0.47" fill="#55a868" fill-opacity="0.5" stroke="#fff" stroke-width="0.400"/>
<rect x="279.77" y="282.28" width="4.02" height="2.37" fill="#55a868" fill-opacity="0.5" stroke="#fff" stroke-width="0.400"/>
<rect x="287.81" y="283.70" width="4.02" height="0.95" fill="#55a868" fill-opacity="0.5" stroke="#fff" stroke-width="0.400"/>
<rect x="291.83" y="283.70" width="4.02" height="0.95" fill="#55a868" fill-opacity="0.5" stroke="#fff" stroke-width="0.400"/>
<rect x="299.87" y="283.70" width="4.02" height="0.95" fill="#55a868" fill-opacity="0.5" stroke="#fff" stroke-width="0.400"/>
<rect x="303.89" y="283.70" width="4.02" height="0.95" fill="#55a868" fill-opacity="0.5" stroke="#fff" stroke-width="0.400"/>
<rect x="311.94" y="284.18" width="4.02" height="0.47" fill="#55a868" fill-opacity="0.5" stroke="#fff" stroke-width="0.400"/>
<rect x="315.96" y="284.18" width="4.02" height="0.47" fill="#55a868" fill-opacity="0.5" stroke="#fff" stroke-width="0.400"/>
<rect x="324.00" y="284.18" width="4.02" height="0.47" fill="#55a868" fill-opacity="0.5" stroke="#fff" stroke-width="0.400"/>
<rect x="328.02" y="284.18" width="4.02" height="0.47" fill="#55a868" fill-opacity="0.5" stroke="#fff" stroke-width="0.400"/>
<rect x="340.08" y="284.18" width="4.02" height="0.47" fill="#55a868" fill-opacity="0.5" stroke="#fff" stroke-width="0.400"/>
<rect x="352.14" y="283.70" width="4.02" height="0.95" fill="#55a868" fill-opacity="0.5" stroke="#fff" stroke-width="0.400"/>
<polyline points="215.44,231.50 216.14,228.94 216.85,226.94 217.56,225.54 218.27,224.74 218.97,224.53 219.68,224.89 220.39,225.76 221.09,227.09 221.80,228.81 222.51,230.85 223.22,233.12 223.92,235.56 224.63,238.09 225.34,240.63 226.04,243.13 226.75,245.53 227.46,247.80 228.17,249.92 228.87,251.87 229.58,253.66 230.29,255.31 230.99,256.84 231.70,258.28 232.41,259.66 233.12,261.00 233.82,262.34 234.53,263.67 235.24,265.01 235.94,266.34 236.65,267.66 237.36,268.94 238.07,270.17 238.77,271.32 239.48,272.38 240.19,273.34 240.89,274.18 241.60,274.91 242.31,275.54 243.02,276.07 243.72,276.54 244.43,276.95 245.14,277.33 245.84,277.69 246.55,278.04 247.26,278.39 247.97,278.74 248.67,279.08 249.38,279.42 250.09,279.73 250.79,280.02 251.50,280.27 252.21,280.48 252.92,280.64 253.62,280.76 254.33,280.83 255.04,280.87 255.75,280.89 256.45,280.89 257.16,280.89 257.87,280.90 258.57,280.92 259.28,280.97 259.99,281.04 260.70,281.14 261.40,281.25 262.11,281.39 262.82,281.55 263.52,281.71 264.23,281.87 264.94,282.03 265.65,282.19 266.35,282.34 267.06,282.48 267.77,282.61 268.47,282.73 269.18,282.85 269.89,282.96 270.60,283.06 271.30,283.15 272.01,283.24 272.72,283.33 273.42,283.41 274.13,283.47 274.84,283.53 275.55,283.58 276.25,283.62 276.96,283.64 277.67,283.66 278.37,283.66 279.08,283.66 279.79,283.65 280.50,283.64 281.20,283.63 281.91,283.62 282.62,283.62 283.32,283.62 284.03,283.63 284.74,283.64 285.45,283.66 286.15,283.69 286.86,283.72 287.57,283.75 288.28,283.79 288.98,283.82 289.69,283.86 290.40,283.89 291.10,283.91 291.81,283.94 292.52,283.96 293.23,283.97 293.93,283.99 294.64,284.00 295.35,284.01 296.05,284.01 296.76,284.02 297.47,284.02 298.18,284.02 298.88,284.03 299.59,284.03 300.30,284.03 301.00,284.03 301.71,284.04 302.42,284.04 303.13,284.05 303.83,284.05 304.54,284.06 305.25,284.07 305.95,284.08 306.66,284.10 307.37,284.11 308.08,284.13 308.78,284.14 309.49,284.16 310.20,284.18 310.90,284.20 311.61,284.22 312.32,284.23 313.03,284.25 313.73,284.27 314.44,284.28 315.15,284.29 315.85,284.30 316.56,284.31 317.27,284.32 317.98,284.32 318.68,284.33 319.39,284.33 320.10,284.33 320.81,284.33 321.51,284.34 322.22,284.34 322.93,284.34 323.63,284.34 324.34,284.34 325.05,284.34 325.76,284.35 326.46,284.35 327.17,284.36 327.88,284.36 328.58,284.37 329.29,284.38 330.00,284.38 330.71,284.39 331.41,284.41 332.12,284.42 332.83,284.43 333.53,284.44 334.24,284.46 334.95,284.47 335.66,284.48 336.36,284.49 337.07,284.49 337.78,284.50 338.48,284.50 339.19,284.50 339.90,284.50 340.61,284.49 341.31,284.49 342.02,284.48 342.73,284.48 343.43,284.48 344.14,284.47 344.85,284.47 345.56,284.47 346.26,284.47 346.97,284.46 347.68,284.46 348.38,284.45 349.09,284.45 349.80,284.44 350.51,284.42 351.21,284.41 351.92,284.40 352.63,284.38 353.33,284.37 354.04,284.36 354.75,284.35 355.46,284.34 356.16,284.34" fill="none" stroke="#55a868" stroke-width="0.8" stroke-linejoin="round" stroke-linecap="round"/>
<rect x="208.40" y="161.65" width="154.80" height="123.00" fill="none" stroke="#2e2e2e" stroke-width="0.58"/>
<line x1="209.32" y1="284.65" x2="209.32" y2="287.15" stroke="#2e2e2e" stroke-width="0.53"/>
<text transform="translate(209.32,292.40) rotate(.1)" class="k" text-anchor="middle">0</text>
<line x1="239.91" y1="284.65" x2="239.91" y2="287.15" stroke="#2e2e2e" stroke-width="0.53"/>
<text transform="translate(239.91,292.40) rotate(.1)" class="k" text-anchor="middle">5</text>
<line x1="270.50" y1="284.65" x2="270.50" y2="287.15" stroke="#2e2e2e" stroke-width="0.53"/>
<text transform="translate(270.50,292.40) rotate(.1)" class="k" text-anchor="middle">10</text>
<line x1="301.10" y1="284.65" x2="301.10" y2="287.15" stroke="#2e2e2e" stroke-width="0.53"/>
<text transform="translate(301.10,292.40) rotate(.1)" class="k" text-anchor="middle">15</text>
<line x1="331.69" y1="284.65" x2="331.69" y2="287.15" stroke="#2e2e2e" stroke-width="0.53"/>
<text transform="translate(331.69,292.40) rotate(.1)" class="k" text-anchor="middle">20</text>
<line x1="362.28" y1="284.65" x2="362.28" y2="287.15" stroke="#2e2e2e" stroke-width="0.53"/>
<text transform="translate(362.28,292.40) rotate(.1)" class="k" text-anchor="middle">25</text>
<line x1="205.90" y1="284.65" x2="208.40" y2="284.65" stroke="#2e2e2e" stroke-width="0.53"/>
<text transform="translate(204.30,286.40) rotate(.1)" class="k" text-anchor="end">0</text>
<line x1="205.90" y1="260.94" x2="208.40" y2="260.94" stroke="#2e2e2e" stroke-width="0.53"/>
<text transform="translate(204.30,262.69) rotate(.1)" class="k" text-anchor="end">50</text>
<line x1="205.90" y1="237.22" x2="208.40" y2="237.22" stroke="#2e2e2e" stroke-width="0.53"/>
<text transform="translate(204.30,238.97) rotate(.1)" class="k" text-anchor="end">100</text>
<line x1="205.90" y1="213.51" x2="208.40" y2="213.51" stroke="#2e2e2e" stroke-width="0.53"/>
<text transform="translate(204.30,215.26) rotate(.1)" class="k" text-anchor="end">150</text>
<line x1="205.90" y1="189.80" x2="208.40" y2="189.80" stroke="#2e2e2e" stroke-width="0.53"/>
<text transform="translate(204.30,191.55) rotate(.1)" class="k" text-anchor="end">200</text>
<line x1="205.90" y1="166.08" x2="208.40" y2="166.08" stroke="#2e2e2e" stroke-width="0.53"/>
<text transform="translate(204.30,167.83) rotate(.1)" class="k" text-anchor="end">250</text>
<text transform="translate(285.80,159.05) rotate(.1)" font-size="5.13" text-anchor="middle">HMEC Edge Count Distribution</text>
<text transform="translate(285.80,298.95) rotate(.1)" font-size="5.13" text-anchor="middle">Number of Edges</text>
<text transform="translate(192.40,223.15) rotate(-89.9)" font-size="5.13" text-anchor="middle">Frequency</text>
</g>
<g>
<rect x="398.34" y="167.51" width="4.85" height="117.14" fill="#800080" fill-opacity="0.5" stroke="#fff" stroke-width="0.400"/>
<rect x="408.04" y="183.16" width="4.85" height="101.49" fill="#800080" fill-opacity="0.5" stroke="#fff" stroke-width="0.400"/>
<rect x="412.89" y="246.71" width="4.85" height="37.94" fill="#800080" fill-opacity="0.5" stroke="#fff" stroke-width="0.400"/>
<rect x="417.75" y="264.26" width="4.85" height="20.39" fill="#800080" fill-opacity="0.5" stroke="#fff" stroke-width="0.400"/>
<rect x="422.60" y="272.32" width="4.85" height="12.33" fill="#800080" fill-opacity="0.5" stroke="#fff" stroke-width="0.400"/>
<rect x="427.45" y="283.70" width="4.85" height="0.95" fill="#800080" fill-opacity="0.5" stroke="#fff" stroke-width="0.400"/>
<rect x="432.31" y="259.99" width="4.85" height="24.66" fill="#800080" fill-opacity="0.5" stroke="#fff" stroke-width="0.400"/>
<rect x="442.01" y="283.70" width="4.85" height="0.95" fill="#800080" fill-opacity="0.5" stroke="#fff" stroke-width="0.400"/>
<rect x="446.86" y="274.22" width="4.85" height="10.43" fill="#800080" fill-opacity="0.5" stroke="#fff" stroke-width="0.400"/>
<rect x="456.57" y="278.01" width="4.85" height="6.64" fill="#800080" fill-opacity="0.5" stroke="#fff" stroke-width="0.400"/>
<rect x="466.27" y="282.75" width="4.85" height="1.90" fill="#800080" fill-opacity="0.5" stroke="#fff" stroke-width="0.400"/>
<rect x="471.13" y="281.80" width="4.85" height="2.85" fill="#800080" fill-opacity="0.5" stroke="#fff" stroke-width="0.400"/>
<rect x="475.98" y="283.23" width="4.85" height="1.42" fill="#800080" fill-opacity="0.5" stroke="#fff" stroke-width="0.400"/>
<rect x="480.83" y="283.70" width="4.85" height="0.95" fill="#800080" fill-opacity="0.5" stroke="#fff" stroke-width="0.400"/>
<rect x="485.68" y="282.75" width="4.85" height="1.90" fill="#800080" fill-opacity="0.5" stroke="#fff" stroke-width="0.400"/>
<rect x="490.54" y="284.18" width="4.85" height="0.47" fill="#800080" fill-opacity="0.5" stroke="#fff" stroke-width="0.400"/>
<rect x="524.51" y="284.18" width="4.85" height="0.47" fill="#800080" fill-opacity="0.5" stroke="#fff" stroke-width="0.400"/>
<rect x="534.21" y="284.18" width="4.85" height="0.47" fill="#800080" fill-opacity="0.5" stroke="#fff" stroke-width="0.400"/>
<polyline points="398.34,239.10 399.04,238.62 399.75,238.66 400.46,239.12 401.17,239.89 401.87,240.80 402.58,241.73 403.29,242.52 403.99,243.07 404.70,243.30 405.41,243.16 406.12,242.66 406.82,241.84 407.53,240.78 408.24,239.58 408.94,238.37 409.65,237.25 410.36,236.33 411.07,235.71 411.77,235.44 412.48,235.56 413.19,236.08 413.89,236.98 414.60,238.23 415.31,239.78 416.02,241.58 416.72,243.57 417.43,245.71 418.14,247.93 418.84,250.21 419.55,252.51 420.26,254.81 420.97,257.07 421.67,259.29 422.38,261.43 423.09,263.47 423.79,265.39 424.50,267.17 425.21,268.79 425.92,270.23 426.62,271.46 427.33,272.49 428.04,273.31 428.74,273.92 429.45,274.34 430.16,274.59 430.87,274.71 431.57,274.72 432.28,274.68 432.99,274.61 433.69,274.57 434.40,274.57 435.11,274.66 435.82,274.84 436.52,275.12 437.23,275.49 437.94,275.96 438.65,276.49 439.35,277.05 440.06,277.63 440.77,278.20 441.47,278.72 442.18,279.18 442.89,279.56 443.60,279.86 444.30,280.07 445.01,280.20 445.72,280.26 446.42,280.26 447.13,280.23 447.84,280.17 448.55,280.11 449.25,280.06 449.96,280.02 450.67,280.01 451.37,280.03 452.08,280.08 452.79,280.15 453.50,280.25 454.20,280.35 454.91,280.46 455.62,280.57 456.32,280.68 457.03,280.79 457.74,280.88 458.45,280.98 459.15,281.07 459.86,281.16 460.57,281.26 461.27,281.35 461.98,281.46 462.69,281.56 463.40,281.67 464.10,281.78 464.81,281.89 465.52,281.99 466.22,282.09 466.93,282.17 467.64,282.24 468.35,282.30 469.05,282.36 469.76,282.40 470.47,282.44 471.18,282.48 471.88,282.53 472.59,282.57 473.30,282.62 474.00,282.68 474.71,282.74 475.42,282.81 476.13,282.88 476.83,282.96 477.54,283.04 478.25,283.11 478.95,283.19 479.66,283.26 480.37,283.32 481.08,283.38 481.78,283.43 482.49,283.47 483.20,283.50 483.90,283.52 484.61,283.55 485.32,283.56 486.03,283.58 486.73,283.60 487.44,283.62 488.15,283.65 488.85,283.68 489.56,283.72 490.27,283.76 490.98,283.81 491.68,283.86 492.39,283.92 493.10,283.98 493.80,284.04 494.51,284.11 495.22,284.17 495.93,284.23 496.63,284.28 497.34,284.33 498.05,284.38 498.75,284.42 499.46,284.46 500.17,284.49 500.88,284.52 501.58,284.55 502.29,284.57 503.00,284.59 503.71,284.60 504.41,284.61 505.12,284.62 505.83,284.63 506.53,284.63 507.24,284.64 507.95,284.64 508.66,284.64 509.36,284.65 510.07,284.65 510.78,284.65 511.48,284.65 512.19,284.65 512.90,284.65 513.61,284.65 514.31,284.64 515.02,284.64 515.73,284.64 516.43,284.63 517.14,284.63 517.85,284.62 518.56,284.61 519.26,284.61 519.97,284.59 520.68,284.58 521.38,284.57 522.09,284.56 522.80,284.54 523.51,284.53 524.21,284.51 524.92,284.50 525.63,284.48 526.33,284.47 527.04,284.47 527.75,284.46 528.46,284.45 529.16,284.45 529.87,284.45 530.58,284.45 531.28,284.45 531.99,284.45 532.70,284.45 533.41,284.45 534.11,284.45 534.82,284.45 535.53,284.45 536.23,284.45 536.94,284.45 537.65,284.45 538.36,284.45 539.06,284.46" fill="none" stroke="#800080" stroke-width="0.8" stroke-linejoin="round" stroke-linecap="round"/>
<rect x="391.30" y="161.65" width="154.80" height="123.00" fill="none" stroke="#2e2e2e" stroke-width="0.58"/>
<line x1="398.34" y1="284.65" x2="398.34" y2="287.15" stroke="#2e2e2e" stroke-width="0.53"/>
<text transform="translate(398.34,292.40) rotate(.1)" class="k" text-anchor="middle">1.0</text>
<line x1="416.85" y1="284.65" x2="416.85" y2="287.15" stroke="#2e2e2e" stroke-width="0.53"/>
<text transform="translate(416.85,292.40) rotate(.1)" class="k" text-anchor="middle">1.5</text>
<line x1="435.37" y1="284.65" x2="435.37" y2="287.15" stroke="#2e2e2e" stroke-width="0.53"/>
<text transform="translate(435.37,292.40) rotate(.1)" class="k" text-anchor="middle">2.0</text>
<line x1="453.89" y1="284.65" x2="453.89" y2="287.15" stroke="#2e2e2e" stroke-width="0.53"/>
<text transform="translate(453.89,292.40) rotate(.1)" class="k" text-anchor="middle">2.5</text>
<line x1="472.40" y1="284.65" x2="472.40" y2="287.15" stroke="#2e2e2e" stroke-width="0.53"/>
<text transform="translate(472.40,292.40) rotate(.1)" class="k" text-anchor="middle">3.0</text>
<line x1="490.92" y1="284.65" x2="490.92" y2="287.15" stroke="#2e2e2e" stroke-width="0.53"/>
<text transform="translate(490.92,292.40) rotate(.1)" class="k" text-anchor="middle">3.5</text>
<line x1="509.44" y1="284.65" x2="509.44" y2="287.15" stroke="#2e2e2e" stroke-width="0.53"/>
<text transform="translate(509.44,292.40) rotate(.1)" class="k" text-anchor="middle">4.0</text>
<line x1="527.95" y1="284.65" x2="527.95" y2="287.15" stroke="#2e2e2e" stroke-width="0.53"/>
<text transform="translate(527.95,292.40) rotate(.1)" class="k" text-anchor="middle">4.5</text>
<line x1="388.80" y1="284.65" x2="391.30" y2="284.65" stroke="#2e2e2e" stroke-width="0.53"/>
<text transform="translate(387.20,286.40) rotate(.1)" class="k" text-anchor="end">0</text>
<line x1="388.80" y1="260.94" x2="391.30" y2="260.94" stroke="#2e2e2e" stroke-width="0.53"/>
<text transform="translate(387.20,262.69) rotate(.1)" class="k" text-anchor="end">50</text>
<line x1="388.80" y1="237.22" x2="391.30" y2="237.22" stroke="#2e2e2e" stroke-width="0.53"/>
<text transform="translate(387.20,238.97) rotate(.1)" class="k" text-anchor="end">100</text>
<line x1="388.80" y1="213.51" x2="391.30" y2="213.51" stroke="#2e2e2e" stroke-width="0.53"/>
<text transform="translate(387.20,215.26) rotate(.1)" class="k" text-anchor="end">150</text>
<line x1="388.80" y1="189.80" x2="391.30" y2="189.80" stroke="#2e2e2e" stroke-width="0.53"/>
<text transform="translate(387.20,191.55) rotate(.1)" class="k" text-anchor="end">200</text>
<line x1="388.80" y1="166.08" x2="391.30" y2="166.08" stroke="#2e2e2e" stroke-width="0.53"/>
<text transform="translate(387.20,167.83) rotate(.1)" class="k" text-anchor="end">250</text>
<text transform="translate(468.70,159.05) rotate(.1)" font-size="5.13" text-anchor="middle">HMEC Average Degree Distribution</text>
<text transform="translate(468.70,298.95) rotate(.1)" font-size="5.13" text-anchor="middle">Average Degree</text>
<text transform="translate(375.30,223.15) rotate(-89.9)" font-size="5.13" text-anchor="middle">Frequency</text>
</g>
<text transform="translate(3.1,160.95) rotate(.1)" font-size="6.8" fill="#111" stroke="#111" stroke-width=".12">B</text>
<g>
<rect x="33.17" y="318.90" width="4.84" height="117.10" fill="#4c72b0" fill-opacity="0.5" stroke="#fff" stroke-width="0.400"/>
<rect x="42.86" y="348.87" width="4.84" height="87.13" fill="#4c72b0" fill-opacity="0.5" stroke="#fff" stroke-width="0.400"/>
<rect x="52.55" y="388.06" width="4.84" height="47.94" fill="#4c72b0" fill-opacity="0.5" stroke="#fff" stroke-width="0.400"/>
<rect x="62.24" y="403.27" width="4.84" height="32.73" fill="#4c72b0" fill-opacity="0.5" stroke="#fff" stroke-width="0.400"/>
<rect x="71.93" y="424.94" width="4.84" height="11.06" fill="#4c72b0" fill-opacity="0.5" stroke="#fff" stroke-width="0.400"/>
<rect x="86.47" y="430.47" width="4.84" height="5.53" fill="#4c72b0" fill-opacity="0.5" stroke="#fff" stroke-width="0.400"/>
<rect x="96.16" y="432.31" width="4.84" height="3.69" fill="#4c72b0" fill-opacity="0.5" stroke="#fff" stroke-width="0.400"/>
<rect x="105.85" y="435.08" width="4.84" height="0.92" fill="#4c72b0" fill-opacity="0.5" stroke="#fff" stroke-width="0.400"/>
<rect x="115.54" y="435.08" width="4.84" height="0.92" fill="#4c72b0" fill-opacity="0.5" stroke="#fff" stroke-width="0.400"/>
<rect x="130.07" y="435.54" width="4.84" height="0.46" fill="#4c72b0" fill-opacity="0.5" stroke="#fff" stroke-width="0.400"/>
<rect x="139.76" y="435.54" width="4.84" height="0.46" fill="#4c72b0" fill-opacity="0.5" stroke="#fff" stroke-width="0.400"/>
<rect x="168.83" y="435.54" width="4.84" height="0.46" fill="#4c72b0" fill-opacity="0.5" stroke="#fff" stroke-width="0.400"/>
<polyline points="33.17,387.69 33.88,387.00 34.59,386.90 35.29,387.29 36.00,388.05 36.71,389.05 37.41,390.13 38.12,391.19 38.82,392.14 39.53,392.93 40.24,393.55 40.94,394.03 41.65,394.44 42.35,394.85 43.06,395.34 43.77,395.98 44.47,396.82 45.18,397.88 45.88,399.13 46.59,400.56 47.30,402.09 48.00,403.65 48.71,405.17 49.41,406.58 50.12,407.85 50.83,408.96 51.53,409.90 52.24,410.69 52.94,411.38 53.65,412.00 54.36,412.61 55.06,413.24 55.77,413.91 56.47,414.62 57.18,415.37 57.89,416.13 58.59,416.88 59.30,417.59 60.00,418.22 60.71,418.77 61.42,419.23 62.12,419.60 62.83,419.91 63.53,420.19 64.24,420.48 64.95,420.81 65.65,421.20 66.36,421.68 67.06,422.25 67.77,422.91 68.48,423.64 69.18,424.42 69.89,425.21 70.59,426.00 71.30,426.75 72.01,427.44 72.71,428.06 73.42,428.61 74.12,429.09 74.83,429.51 75.54,429.88 76.24,430.21 76.95,430.52 77.65,430.82 78.36,431.10 79.07,431.38 79.77,431.65 80.48,431.91 81.19,432.15 81.89,432.36 82.60,432.56 83.30,432.72 84.01,432.86 84.72,432.98 85.42,433.08 86.13,433.18 86.83,433.26 87.54,433.35 88.25,433.44 88.95,433.53 89.66,433.62 90.36,433.72 91.07,433.81 91.78,433.89 92.48,433.97 93.19,434.04 93.89,434.09 94.60,434.14 95.31,434.18 96.01,434.22 96.72,434.25 97.42,434.29 98.13,434.34 98.84,434.40 99.54,434.48 100.25,434.56 100.95,434.65 101.66,434.75 102.37,434.85 103.07,434.94 103.78,435.04 104.48,435.13 105.19,435.20 105.90,435.27 106.60,435.33 107.31,435.39 108.01,435.43 108.72,435.46 109.43,435.49 110.13,435.52 110.84,435.54 111.54,435.56 112.25,435.57 112.96,435.58 113.66,435.59 114.37,435.59 115.07,435.60 115.78,435.59 116.49,435.59 117.19,435.59 117.90,435.59 118.60,435.59 119.31,435.59 120.02,435.60 120.72,435.60 121.43,435.62 122.13,435.63 122.84,435.65 123.55,435.66 124.25,435.68 124.96,435.70 125.66,435.71 126.37,435.72 127.08,435.74 127.78,435.75 128.49,435.75 129.20,435.76 129.90,435.77 130.61,435.77 131.31,435.78 132.02,435.78 132.73,435.79 133.43,435.79 134.14,435.79 134.84,435.80 135.55,435.80 136.26,435.80 136.96,435.80 137.67,435.80 138.37,435.80 139.08,435.80 139.79,435.80 140.49,435.80 141.20,435.80 141.90,435.81 142.61,435.82 143.32,435.83 144.02,435.84 144.73,435.86 145.43,435.87 146.14,435.89 146.85,435.90 147.55,435.92 148.26,435.93 148.96,435.95 149.67,435.96 150.38,435.97 151.08,435.97 151.79,435.98 152.49,435.99 153.20,435.99 153.91,435.99 154.61,435.99 155.32,436.00 156.02,436.00 156.73,436.00 157.44,436.00 158.14,436.00 158.85,436.00 159.55,436.00 160.26,435.99 160.97,435.99 161.67,435.99 162.38,435.99 163.08,435.98 163.79,435.97 164.50,435.97 165.20,435.96 165.91,435.95 166.61,435.93 167.32,435.92 168.03,435.91 168.73,435.89 169.44,435.88 170.14,435.86 170.85,435.85 171.56,435.84 172.26,435.83 172.97,435.82 173.68,435.82" fill="none" stroke="#4c72b0" stroke-width="0.8" stroke-linejoin="round" stroke-linecap="round"/>
<rect x="26.15" y="313.05" width="154.55" height="122.95" fill="none" stroke="#2e2e2e" stroke-width="0.58"/>
<line x1="33.17" y1="436.00" x2="33.17" y2="438.50" stroke="#2e2e2e" stroke-width="0.53"/>
<text transform="translate(33.17,443.75) rotate(.1)" class="k" text-anchor="middle">2</text>
<line x1="54.79" y1="436.00" x2="54.79" y2="438.50" stroke="#2e2e2e" stroke-width="0.53"/>
<text transform="translate(54.79,443.75) rotate(.1)" class="k" text-anchor="middle">4</text>
<line x1="76.41" y1="436.00" x2="76.41" y2="438.50" stroke="#2e2e2e" stroke-width="0.53"/>
<text transform="translate(76.41,443.75) rotate(.1)" class="k" text-anchor="middle">6</text>
<line x1="98.02" y1="436.00" x2="98.02" y2="438.50" stroke="#2e2e2e" stroke-width="0.53"/>
<text transform="translate(98.02,443.75) rotate(.1)" class="k" text-anchor="middle">8</text>
<line x1="119.64" y1="436.00" x2="119.64" y2="438.50" stroke="#2e2e2e" stroke-width="0.53"/>
<text transform="translate(119.64,443.75) rotate(.1)" class="k" text-anchor="middle">10</text>
<line x1="141.25" y1="436.00" x2="141.25" y2="438.50" stroke="#2e2e2e" stroke-width="0.53"/>
<text transform="translate(141.25,443.75) rotate(.1)" class="k" text-anchor="middle">12</text>
<line x1="162.87" y1="436.00" x2="162.87" y2="438.50" stroke="#2e2e2e" stroke-width="0.53"/>
<text transform="translate(162.87,443.75) rotate(.1)" class="k" text-anchor="middle">14</text>
<line x1="23.65" y1="436.00" x2="26.15" y2="436.00" stroke="#2e2e2e" stroke-width="0.53"/>
<text transform="translate(22.05,437.75) rotate(.1)" class="k" text-anchor="end">0</text>
<line x1="23.65" y1="412.95" x2="26.15" y2="412.95" stroke="#2e2e2e" stroke-width="0.53"/>
<text transform="translate(22.05,414.70) rotate(.1)" class="k" text-anchor="end">50</text>
<line x1="23.65" y1="389.90" x2="26.15" y2="389.90" stroke="#2e2e2e" stroke-width="0.53"/>
<text transform="translate(22.05,391.65) rotate(.1)" class="k" text-anchor="end">100</text>
<line x1="23.65" y1="366.85" x2="26.15" y2="366.85" stroke="#2e2e2e" stroke-width="0.53"/>
<text transform="translate(22.05,368.60) rotate(.1)" class="k" text-anchor="end">150</text>
<line x1="23.65" y1="343.80" x2="26.15" y2="343.80" stroke="#2e2e2e" stroke-width="0.53"/>
<text transform="translate(22.05,345.55) rotate(.1)" class="k" text-anchor="end">200</text>
<line x1="23.65" y1="320.75" x2="26.15" y2="320.75" stroke="#2e2e2e" stroke-width="0.53"/>
<text transform="translate(22.05,322.50) rotate(.1)" class="k" text-anchor="end">250</text>
<text transform="translate(103.43,310.45) rotate(.1)" font-size="5.13" text-anchor="middle">IMR90 Node Count Distribution</text>
<text transform="translate(103.43,450.30) rotate(.1)" font-size="5.13" text-anchor="middle">Number of Nodes</text>
<text transform="translate(10.15,374.52) rotate(-89.9)" font-size="5.13" text-anchor="middle">Frequency</text>
</g>
<g>
<rect x="215.44" y="318.90" width="4.54" height="117.10" fill="#55a868" fill-opacity="0.5" stroke="#fff" stroke-width="0.400"/>
<rect x="219.98" y="348.87" width="4.54" height="87.13" fill="#55a868" fill-opacity="0.5" stroke="#fff" stroke-width="0.400"/>
<rect x="224.52" y="406.96" width="4.54" height="29.04" fill="#55a868" fill-opacity="0.5" stroke="#fff" stroke-width="0.400"/>
<rect x="233.59" y="397.74" width="4.54" height="38.26" fill="#55a868" fill-opacity="0.5" stroke="#fff" stroke-width="0.400"/>
<rect x="238.13" y="430.47" width="4.54" height="5.53" fill="#55a868" fill-opacity="0.5" stroke="#fff" stroke-width="0.400"/>
<rect x="247.21" y="422.17" width="4.54" height="13.83" fill="#55a868" fill-opacity="0.5" stroke="#fff" stroke-width="0.400"/>
<rect x="251.75" y="435.54" width="4.54" height="0.46" fill="#55a868" fill-opacity="0.5" stroke="#fff" stroke-width="0.400"/>
<rect x="260.83" y="430.93" width="4.54" height="5.07" fill="#55a868" fill-opacity="0.5" stroke="#fff" stroke-width="0.400"/>
<rect x="265.37" y="433.23" width="4.54" height="2.77" fill="#55a868" fill-opacity="0.5" stroke="#fff" stroke-width="0.400"/>
<rect x="274.45" y="433.23" width="4.54" height="2.77" fill="#55a868" fill-opacity="0.5" stroke="#fff" stroke-width="0.400"/>
<rect x="278.99" y="435.54" width="4.54" height="0.46" fill="#55a868" fill-opacity="0.5" stroke="#fff" stroke-width="0.400"/>
<rect x="288.07" y="433.69" width="4.54" height="2.31" fill="#55a868" fill-opacity="0.5" stroke="#fff" stroke-width="0.400"/>
<rect x="292.61" y="435.54" width="4.54" height="0.46" fill="#55a868" fill-opacity="0.5" stroke="#fff" stroke-width="0.400"/>
<rect x="301.69" y="435.54" width="4.54" height="0.46" fill="#55a868" fill-opacity="0.5" stroke="#fff" stroke-width="0.400"/>
<rect x="306.23" y="435.54" width="4.54" height="0.46" fill="#55a868" fill-opacity="0.5" stroke="#fff" stroke-width="0.400"/>
<rect x="315.31" y="435.54" width="4.54" height="0.46" fill="#55a868" fill-opacity="0.5" stroke="#fff" stroke-width="0.400"/>
<rect x="328.93" y="435.54" width="4.54" height="0.46" fill="#55a868" fill-opacity="0.5" stroke="#fff" stroke-width="0.400"/>
<rect x="342.54" y="435.08" width="4.54" height="0.92" fill="#55a868" fill-opacity="0.5" stroke="#fff" stroke-width="0.400"/>
<rect x="351.62" y="435.54" width="4.54" height="0.46" fill="#55a868" fill-opacity="0.5" stroke="#fff" stroke-width="0.400"/>
<polyline points="215.44,382.26 216.14,380.13 216.85,378.57 217.56,377.58 218.27,377.15 218.97,377.28 219.68,377.91 220.39,378.99 221.09,380.48 221.80,382.30 222.51,384.40 223.22,386.70 223.92,389.13 224.63,391.64 225.34,394.15 226.04,396.62 226.75,398.98 227.46,401.21 228.17,403.28 228.87,405.15 229.58,406.84 230.29,408.34 230.99,409.67 231.70,410.86 232.41,411.93 233.12,412.93 233.82,413.88 234.53,414.82 235.24,415.76 235.94,416.74 236.65,417.75 237.36,418.79 238.07,419.86 238.77,420.93 239.48,422.00 240.19,423.03 240.89,424.01 241.60,424.92 242.31,425.73 243.02,426.45 243.72,427.07 244.43,427.60 245.14,428.05 245.84,428.43 246.55,428.76 247.26,429.06 247.97,429.35 248.67,429.63 249.38,429.93 250.09,430.24 250.79,430.57 251.50,430.91 252.21,431.26 252.92,431.62 253.62,431.96 254.33,432.29 255.04,432.58 255.75,432.84 256.45,433.06 257.16,433.23 257.87,433.36 258.57,433.45 259.28,433.51 259.99,433.54 260.70,433.55 261.40,433.55 262.11,433.54 262.82,433.54 263.52,433.53 264.23,433.54 264.94,433.56 265.65,433.59 266.35,433.63 267.06,433.67 267.77,433.73 268.47,433.79 269.18,433.85 269.89,433.91 270.60,433.97 271.30,434.03 272.01,434.10 272.72,434.16 273.42,434.23 274.13,434.29 274.84,434.36 275.55,434.44 276.25,434.51 276.96,434.58 277.67,434.66 278.37,434.73 279.08,434.80 279.79,434.86 280.50,434.91 281.20,434.96 281.91,434.99 282.62,435.02 283.32,435.04 284.03,435.04 284.74,435.04 285.45,435.04 286.15,435.03 286.86,435.02 287.57,435.02 288.28,435.02 288.98,435.02 289.69,435.04 290.40,435.06 291.10,435.09 291.81,435.12 292.52,435.17 293.23,435.22 293.93,435.27 294.64,435.32 295.35,435.37 296.05,435.42 296.76,435.46 297.47,435.50 298.18,435.54 298.88,435.57 299.59,435.60 300.30,435.62 301.00,435.64 301.71,435.65 302.42,435.66 303.13,435.67 303.83,435.67 304.54,435.68 305.25,435.68 305.95,435.68 306.66,435.69 307.37,435.69 308.08,435.69 308.78,435.69 309.49,435.69 310.20,435.70 310.90,435.70 311.61,435.71 312.32,435.71 313.03,435.72 313.73,435.73 314.44,435.74 315.15,435.75 315.85,435.76 316.56,435.77 317.27,435.78 317.98,435.79 318.68,435.81 319.39,435.82 320.10,435.83 320.81,435.84 321.51,435.84 322.22,435.85 322.93,435.85 323.63,435.85 324.34,435.85 325.05,435.85 325.76,435.84 326.46,435.84 327.17,435.83 327.88,435.83 328.58,435.83 329.29,435.82 330.00,435.82 330.71,435.82 331.41,435.82 332.12,435.82 332.83,435.82 333.53,435.81 334.24,435.81 334.95,435.80 335.66,435.79 336.36,435.78 337.07,435.77 337.78,435.75 338.48,435.74 339.19,435.72 339.90,435.70 340.61,435.69 341.31,435.68 342.02,435.68 342.73,435.67 343.43,435.67 344.14,435.68 344.85,435.69 345.56,435.70 346.26,435.72 346.97,435.73 347.68,435.75 348.38,435.77 349.09,435.78 349.80,435.79 350.51,435.80 351.21,435.81 351.92,435.81 352.63,435.82 353.33,435.82 354.04,435.82 354.75,435.82 355.46,435.83 356.16,435.83" fill="none" stroke="#55a868" stroke-width="0.8" stroke-linejoin="round" stroke-linecap="round"/>
<rect x="208.40" y="313.05" width="154.80" height="122.95" fill="none" stroke="#2e2e2e" stroke-width="0.58"/>
<line x1="208.74" y1="436.00" x2="208.74" y2="438.50" stroke="#2e2e2e" stroke-width="0.53"/>
<text transform="translate(208.74,443.75) rotate(.1)" class="k" text-anchor="middle">0</text>
<line x1="242.24" y1="436.00" x2="242.24" y2="438.50" stroke="#2e2e2e" stroke-width="0.53"/>
<text transform="translate(242.24,443.75) rotate(.1)" class="k" text-anchor="middle">5</text>
<line x1="275.75" y1="436.00" x2="275.75" y2="438.50" stroke="#2e2e2e" stroke-width="0.53"/>
<text transform="translate(275.75,443.75) rotate(.1)" class="k" text-anchor="middle">10</text>
<line x1="309.25" y1="436.00" x2="309.25" y2="438.50" stroke="#2e2e2e" stroke-width="0.53"/>
<text transform="translate(309.25,443.75) rotate(.1)" class="k" text-anchor="middle">15</text>
<line x1="342.76" y1="436.00" x2="342.76" y2="438.50" stroke="#2e2e2e" stroke-width="0.53"/>
<text transform="translate(342.76,443.75) rotate(.1)" class="k" text-anchor="middle">20</text>
<line x1="205.90" y1="436.00" x2="208.40" y2="436.00" stroke="#2e2e2e" stroke-width="0.53"/>
<text transform="translate(204.30,437.75) rotate(.1)" class="k" text-anchor="end">0</text>
<line x1="205.90" y1="412.95" x2="208.40" y2="412.95" stroke="#2e2e2e" stroke-width="0.53"/>
<text transform="translate(204.30,414.70) rotate(.1)" class="k" text-anchor="end">50</text>
<line x1="205.90" y1="389.90" x2="208.40" y2="389.90" stroke="#2e2e2e" stroke-width="0.53"/>
<text transform="translate(204.30,391.65) rotate(.1)" class="k" text-anchor="end">100</text>
<line x1="205.90" y1="366.85" x2="208.40" y2="366.85" stroke="#2e2e2e" stroke-width="0.53"/>
<text transform="translate(204.30,368.60) rotate(.1)" class="k" text-anchor="end">150</text>
<line x1="205.90" y1="343.80" x2="208.40" y2="343.80" stroke="#2e2e2e" stroke-width="0.53"/>
<text transform="translate(204.30,345.55) rotate(.1)" class="k" text-anchor="end">200</text>
<line x1="205.90" y1="320.75" x2="208.40" y2="320.75" stroke="#2e2e2e" stroke-width="0.53"/>
<text transform="translate(204.30,322.50) rotate(.1)" class="k" text-anchor="end">250</text>
<text transform="translate(285.80,310.45) rotate(.1)" font-size="5.13" text-anchor="middle">IMR90 Edge Count Distribution</text>
<text transform="translate(285.80,450.30) rotate(.1)" font-size="5.13" text-anchor="middle">Number of Edges</text>
<text transform="translate(192.40,374.52) rotate(-89.9)" font-size="5.13" text-anchor="middle">Frequency</text>
</g>
<g>
<rect x="398.34" y="318.90" width="5.41" height="117.10" fill="#800080" fill-opacity="0.5" stroke="#fff" stroke-width="0.400"/>
<rect x="409.16" y="348.87" width="5.41" height="87.13" fill="#800080" fill-opacity="0.5" stroke="#fff" stroke-width="0.400"/>
<rect x="414.57" y="406.96" width="5.41" height="29.04" fill="#800080" fill-opacity="0.5" stroke="#fff" stroke-width="0.400"/>
<rect x="419.99" y="416.64" width="5.41" height="19.36" fill="#800080" fill-opacity="0.5" stroke="#fff" stroke-width="0.400"/>
<rect x="425.40" y="429.08" width="5.41" height="6.92" fill="#800080" fill-opacity="0.5" stroke="#fff" stroke-width="0.400"/>
<rect x="436.22" y="414.79" width="5.41" height="21.21" fill="#800080" fill-opacity="0.5" stroke="#fff" stroke-width="0.400"/>
<rect x="447.05" y="434.62" width="5.41" height="1.38" fill="#800080" fill-opacity="0.5" stroke="#fff" stroke-width="0.400"/>
<rect x="452.46" y="424.47" width="5.41" height="11.53" fill="#800080" fill-opacity="0.5" stroke="#fff" stroke-width="0.400"/>
<rect x="463.29" y="432.31" width="5.41" height="3.69" fill="#800080" fill-opacity="0.5" stroke="#fff" stroke-width="0.400"/>
<rect x="474.11" y="434.16" width="5.41" height="1.84" fill="#800080" fill-opacity="0.5" stroke="#fff" stroke-width="0.400"/>
<rect x="479.53" y="432.31" width="5.41" height="3.69" fill="#800080" fill-opacity="0.5" stroke="#fff" stroke-width="0.400"/>
<rect x="484.94" y="435.54" width="5.41" height="0.46" fill="#800080" fill-opacity="0.5" stroke="#fff" stroke-width="0.400"/>
<rect x="495.76" y="434.62" width="5.41" height="1.38" fill="#800080" fill-opacity="0.5" stroke="#fff" stroke-width="0.400"/>
<rect x="501.18" y="435.54" width="5.41" height="0.46" fill="#800080" fill-opacity="0.5" stroke="#fff" stroke-width="0.400"/>
<rect x="517.41" y="435.54" width="5.41" height="0.46" fill="#800080" fill-opacity="0.5" stroke="#fff" stroke-width="0.400"/>
<rect x="533.65" y="435.54" width="5.41" height="0.46" fill="#800080" fill-opacity="0.5" stroke="#fff" stroke-width="0.400"/>
<polyline points="398.34,390.77 399.04,390.39 399.75,390.44 400.46,390.88 401.17,391.62 401.87,392.57 402.58,393.62 403.29,394.67 403.99,395.64 404.70,396.44 405.41,397.02 406.12,397.35 406.82,397.42 407.53,397.25 408.24,396.88 408.94,396.37 409.65,395.78 410.36,395.19 411.07,394.66 411.77,394.26 412.48,394.04 413.19,394.05 413.89,394.30 414.60,394.81 415.31,395.57 416.02,396.56 416.72,397.77 417.43,399.15 418.14,400.67 418.84,402.31 419.55,404.04 420.26,405.82 420.97,407.63 421.67,409.45 422.38,411.26 423.09,413.05 423.79,414.81 424.50,416.50 425.21,418.13 425.92,419.68 426.62,421.13 427.33,422.46 428.04,423.67 428.74,424.73 429.45,425.65 430.16,426.41 430.87,427.02 431.57,427.48 432.28,427.79 432.99,427.98 433.69,428.06 434.40,428.05 435.11,427.98 435.82,427.87 436.52,427.75 437.23,427.65 437.94,427.58 438.65,427.57 439.35,427.62 440.06,427.74 440.77,427.93 441.47,428.18 442.18,428.49 442.89,428.84 443.60,429.21 444.30,429.59 445.01,429.96 445.72,430.31 446.42,430.61 447.13,430.86 447.84,431.06 448.55,431.20 449.25,431.28 449.96,431.31 450.67,431.30 451.37,431.26 452.08,431.21 452.79,431.15 453.50,431.09 454.20,431.05 454.91,431.05 455.62,431.07 456.32,431.13 457.03,431.22 457.74,431.35 458.45,431.52 459.15,431.70 459.86,431.91 460.57,432.12 461.27,432.34 461.98,432.56 462.69,432.76 463.40,432.96 464.10,433.14 464.81,433.30 465.52,433.45 466.22,433.57 466.93,433.68 467.64,433.77 468.35,433.84 469.05,433.89 469.76,433.93 470.47,433.96 471.18,433.97 471.88,433.98 472.59,433.97 473.30,433.95 474.00,433.93 474.71,433.90 475.42,433.88 476.13,433.86 476.83,433.85 477.54,433.84 478.25,433.85 478.95,433.88 479.66,433.92 480.37,433.98 481.08,434.05 481.78,434.14 482.49,434.23 483.20,434.34 483.90,434.46 484.61,434.57 485.32,434.69 486.03,434.80 486.73,434.90 487.44,435.00 488.15,435.08 488.85,435.16 489.56,435.22 490.27,435.26 490.98,435.30 491.68,435.33 492.39,435.34 493.10,435.35 493.80,435.35 494.51,435.35 495.22,435.35 495.93,435.35 496.63,435.34 497.34,435.34 498.05,435.35 498.75,435.35 499.46,435.37 500.17,435.38 500.88,435.41 501.58,435.43 502.29,435.46 503.00,435.49 503.71,435.53 504.41,435.56 505.12,435.60 505.83,435.63 506.53,435.67 507.24,435.70 507.95,435.73 508.66,435.76 509.36,435.78 510.07,435.81 510.78,435.82 511.48,435.84 512.19,435.85 512.90,435.85 513.61,435.86 514.31,435.86 515.02,435.86 515.73,435.85 516.43,435.85 517.14,435.84 517.85,435.84 518.56,435.83 519.26,435.83 519.97,435.83 520.68,435.83 521.38,435.83 522.09,435.83 522.80,435.83 523.51,435.84 524.21,435.85 524.92,435.86 525.63,435.86 526.33,435.87 527.04,435.88 527.75,435.89 528.46,435.89 529.16,435.90 529.87,435.90 530.58,435.90 531.28,435.89 531.99,435.89 532.70,435.88 533.41,435.88 534.11,435.87 534.82,435.86 535.53,435.85 536.23,435.84 536.94,435.84 537.65,435.83 538.36,435.83 539.06,435.83" fill="none" stroke="#800080" stroke-width="0.8" stroke-linejoin="round" stroke-linecap="round"/>
<rect x="391.30" y="313.05" width="154.80" height="122.95" fill="none" stroke="#2e2e2e" stroke-width="0.58"/>
<line x1="398.34" y1="436.00" x2="398.34" y2="438.50" stroke="#2e2e2e" stroke-width="0.53"/>
<text transform="translate(398.34,443.75) rotate(.1)" class="k" text-anchor="middle">1.0</text>
<line x1="418.76" y1="436.00" x2="418.76" y2="438.50" stroke="#2e2e2e" stroke-width="0.53"/>
<text transform="translate(418.76,443.75) rotate(.1)" class="k" text-anchor="middle">1.5</text>
<line x1="439.19" y1="436.00" x2="439.19" y2="438.50" stroke="#2e2e2e" stroke-width="0.53"/>
<text transform="translate(439.19,443.75) rotate(.1)" class="k" text-anchor="middle">2.0</text>
<line x1="459.62" y1="436.00" x2="459.62" y2="438.50" stroke="#2e2e2e" stroke-width="0.53"/>
<text transform="translate(459.62,443.75) rotate(.1)" class="k" text-anchor="middle">2.5</text>
<line x1="480.05" y1="436.00" x2="480.05" y2="438.50" stroke="#2e2e2e" stroke-width="0.53"/>
<text transform="translate(480.05,443.75) rotate(.1)" class="k" text-anchor="middle">3.0</text>
<line x1="500.48" y1="436.00" x2="500.48" y2="438.50" stroke="#2e2e2e" stroke-width="0.53"/>
<text transform="translate(500.48,443.75) rotate(.1)" class="k" text-anchor="middle">3.5</text>
<line x1="520.91" y1="436.00" x2="520.91" y2="438.50" stroke="#2e2e2e" stroke-width="0.53"/>
<text transform="translate(520.91,443.75) rotate(.1)" class="k" text-anchor="middle">4.0</text>
<line x1="541.33" y1="436.00" x2="541.33" y2="438.50" stroke="#2e2e2e" stroke-width="0.53"/>
<text transform="translate(541.33,443.75) rotate(.1)" class="k" text-anchor="middle">4.5</text>
<line x1="388.80" y1="436.00" x2="391.30" y2="436.00" stroke="#2e2e2e" stroke-width="0.53"/>
<text transform="translate(387.20,437.75) rotate(.1)" class="k" text-anchor="end">0</text>
<line x1="388.80" y1="412.95" x2="391.30" y2="412.95" stroke="#2e2e2e" stroke-width="0.53"/>
<text transform="translate(387.20,414.70) rotate(.1)" class="k" text-anchor="end">50</text>
<line x1="388.80" y1="389.90" x2="391.30" y2="389.90" stroke="#2e2e2e" stroke-width="0.53"/>
<text transform="translate(387.20,391.65) rotate(.1)" class="k" text-anchor="end">100</text>
<line x1="388.80" y1="366.85" x2="391.30" y2="366.85" stroke="#2e2e2e" stroke-width="0.53"/>
<text transform="translate(387.20,368.60) rotate(.1)" class="k" text-anchor="end">150</text>
<line x1="388.80" y1="343.80" x2="391.30" y2="343.80" stroke="#2e2e2e" stroke-width="0.53"/>
<text transform="translate(387.20,345.55) rotate(.1)" class="k" text-anchor="end">200</text>
<line x1="388.80" y1="320.75" x2="391.30" y2="320.75" stroke="#2e2e2e" stroke-width="0.53"/>
<text transform="translate(387.20,322.50) rotate(.1)" class="k" text-anchor="end">250</text>
<text transform="translate(468.70,310.45) rotate(.1)" font-size="5.13" text-anchor="middle">IMR90 Average Degree Distribution</text>
<text transform="translate(468.70,450.30) rotate(.1)" font-size="5.13" text-anchor="middle">Average Degree</text>
<text transform="translate(375.30,374.52) rotate(-89.9)" font-size="5.13" text-anchor="middle">Frequency</text>
</g>
<text transform="translate(3.1,312.35) rotate(.1)" font-size="6.8" fill="#111" stroke="#111" stroke-width=".12">C</text>
<g>
<rect x="33.17" y="469.99" width="2.81" height="117.86" fill="#4c72b0" fill-opacity="0.5" stroke="#fff" stroke-width="0.197"/>
<rect x="35.98" y="482.22" width="2.81" height="105.63" fill="#4c72b0" fill-opacity="0.5" stroke="#fff" stroke-width="0.197"/>
<rect x="41.60" y="501.12" width="2.81" height="86.73" fill="#4c72b0" fill-opacity="0.5" stroke="#fff" stroke-width="0.197"/>
<rect x="44.41" y="535.04" width="2.81" height="52.81" fill="#4c72b0" fill-opacity="0.5" stroke="#fff" stroke-width="0.197"/>
<rect x="50.03" y="560.61" width="2.81" height="27.24" fill="#4c72b0" fill-opacity="0.5" stroke="#fff" stroke-width="0.197"/>
<rect x="52.84" y="572.84" width="2.81" height="15.01" fill="#4c72b0" fill-opacity="0.5" stroke="#fff" stroke-width="0.197"/>
<rect x="58.46" y="572.28" width="2.81" height="15.57" fill="#4c72b0" fill-opacity="0.5" stroke="#fff" stroke-width="0.197"/>
<rect x="61.27" y="582.29" width="2.81" height="5.56" fill="#4c72b0" fill-opacity="0.5" stroke="#fff" stroke-width="0.197"/>
<rect x="66.89" y="585.63" width="2.81" height="2.22" fill="#4c72b0" fill-opacity="0.5" stroke="#fff" stroke-width="0.197"/>
<rect x="72.52" y="586.18" width="2.81" height="1.67" fill="#4c72b0" fill-opacity="0.5" stroke="#fff" stroke-width="0.197"/>
<rect x="75.32" y="585.07" width="2.81" height="2.78" fill="#4c72b0" fill-opacity="0.5" stroke="#fff" stroke-width="0.197"/>
<rect x="80.94" y="586.74" width="2.81" height="1.11" fill="#4c72b0" fill-opacity="0.5" stroke="#fff" stroke-width="0.197"/>
<rect x="83.75" y="587.29" width="2.81" height="0.56" fill="#4c72b0" fill-opacity="0.5" stroke="#fff" stroke-width="0.197"/>
<rect x="89.38" y="587.29" width="2.81" height="0.56" fill="#4c72b0" fill-opacity="0.5" stroke="#fff" stroke-width="0.197"/>
<rect x="97.80" y="587.29" width="2.81" height="0.56" fill="#4c72b0" fill-opacity="0.5" stroke="#fff" stroke-width="0.197"/>
<rect x="111.86" y="587.29" width="2.81" height="0.56" fill="#4c72b0" fill-opacity="0.5" stroke="#fff" stroke-width="0.197"/>
<rect x="170.87" y="587.29" width="2.81" height="0.56" fill="#4c72b0" fill-opacity="0.5" stroke="#fff" stroke-width="0.197"/>
<polyline points="33.17,530.92 33.88,526.69 34.59,523.74 35.29,521.98 36.00,521.24 36.71,521.32 37.41,522.04 38.12,523.24 38.82,524.79 39.53,526.63 40.24,528.69 40.94,530.96 41.65,533.43 42.35,536.07 43.06,538.89 43.77,541.83 44.47,544.84 45.18,547.88 45.88,550.88 46.59,553.82 47.30,556.66 48.00,559.37 48.71,561.94 49.41,564.33 50.12,566.53 50.83,568.52 51.53,570.32 52.24,571.90 52.94,573.28 53.65,574.47 54.36,575.45 55.06,576.26 55.77,576.91 56.47,577.43 57.18,577.88 57.89,578.28 58.59,578.70 59.30,579.16 60.00,579.68 60.71,580.29 61.42,580.95 62.12,581.64 62.83,582.34 63.53,583.02 64.24,583.64 64.95,584.21 65.65,584.70 66.36,585.12 67.06,585.48 67.77,585.77 68.48,586.01 69.18,586.19 69.89,586.33 70.59,586.43 71.30,586.49 72.01,586.53 72.71,586.53 73.42,586.52 74.12,586.50 74.83,586.47 75.54,586.45 76.24,586.44 76.95,586.46 77.65,586.50 78.36,586.56 79.07,586.64 79.77,586.74 80.48,586.84 81.19,586.95 81.89,587.05 82.60,587.14 83.30,587.21 84.01,587.28 84.72,587.34 85.42,587.38 86.13,587.42 86.83,587.45 87.54,587.48 88.25,587.50 88.95,587.52 89.66,587.54 90.36,587.57 91.07,587.60 91.78,587.62 92.48,587.65 93.19,587.67 93.89,587.69 94.60,587.70 95.31,587.70 96.01,587.69 96.72,587.67 97.42,587.66 98.13,587.65 98.84,587.65 99.54,587.65 100.25,587.66 100.95,587.68 101.66,587.71 102.37,587.74 103.07,587.76 103.78,587.78 104.48,587.80 105.19,587.80 105.90,587.81 106.60,587.80 107.31,587.79 108.01,587.77 108.72,587.74 109.43,587.72 110.13,587.69 110.84,587.67 111.54,587.66 112.25,587.65 112.96,587.66 113.66,587.67 114.37,587.69 115.07,587.72 115.78,587.75 116.49,587.77 117.19,587.79 117.90,587.81 118.60,587.83 119.31,587.83 120.02,587.84 120.72,587.85 121.43,587.85 122.13,587.85 122.84,587.85 123.55,587.85 124.25,587.85 124.96,587.85 125.66,587.85 126.37,587.85 127.08,587.85 127.78,587.85 128.49,587.85 129.20,587.85 129.90,587.85 130.61,587.85 131.31,587.85 132.02,587.85 132.73,587.85 133.43,587.85 134.14,587.85 134.84,587.85 135.55,587.85 136.26,587.85 136.96,587.85 137.67,587.85 138.37,587.85 139.08,587.85 139.79,587.85 140.49,587.85 141.20,587.85 141.90,587.85 142.61,587.85 143.32,587.85 144.02,587.85 144.73,587.85 145.43,587.85 146.14,587.85 146.85,587.85 147.55,587.85 148.26,587.85 148.96,587.85 149.67,587.85 150.38,587.85 151.08,587.85 151.79,587.85 152.49,587.85 153.20,587.85 153.91,587.85 154.61,587.85 155.32,587.85 156.02,587.85 156.73,587.85 157.44,587.85 158.14,587.85 158.85,587.85 159.55,587.85 160.26,587.85 160.97,587.85 161.67,587.85 162.38,587.85 163.08,587.85 163.79,587.85 164.50,587.85 165.20,587.84 165.91,587.84 166.61,587.83 167.32,587.82 168.03,587.81 168.73,587.79 169.44,587.77 170.14,587.74 170.85,587.72 171.56,587.69 172.26,587.67 172.97,587.66 173.68,587.65" fill="none" stroke="#4c72b0" stroke-width="0.8" stroke-linejoin="round" stroke-linecap="round"/>
<rect x="26.15" y="464.10" width="154.55" height="123.75" fill="none" stroke="#2e2e2e" stroke-width="0.58"/>
<line x1="46.35" y1="587.85" x2="46.35" y2="590.35" stroke="#2e2e2e" stroke-width="0.53"/>
<text transform="translate(46.35,595.90) rotate(.1)" class="k" text-anchor="middle">5</text>
<line x1="68.30" y1="587.85" x2="68.30" y2="590.35" stroke="#2e2e2e" stroke-width="0.53"/>
<text transform="translate(68.30,595.90) rotate(.1)" class="k" text-anchor="middle">10</text>
<line x1="90.25" y1="587.85" x2="90.25" y2="590.35" stroke="#2e2e2e" stroke-width="0.53"/>
<text transform="translate(90.25,595.90) rotate(.1)" class="k" text-anchor="middle">15</text>
<line x1="112.21" y1="587.85" x2="112.21" y2="590.35" stroke="#2e2e2e" stroke-width="0.53"/>
<text transform="translate(112.21,595.90) rotate(.1)" class="k" text-anchor="middle">20</text>
<line x1="134.16" y1="587.85" x2="134.16" y2="590.35" stroke="#2e2e2e" stroke-width="0.53"/>
<text transform="translate(134.16,595.90) rotate(.1)" class="k" text-anchor="middle">25</text>
<line x1="156.11" y1="587.85" x2="156.11" y2="590.35" stroke="#2e2e2e" stroke-width="0.53"/>
<text transform="translate(156.11,595.90) rotate(.1)" class="k" text-anchor="middle">30</text>
<line x1="178.07" y1="587.85" x2="178.07" y2="590.35" stroke="#2e2e2e" stroke-width="0.53"/>
<text transform="translate(178.07,595.90) rotate(.1)" class="k" text-anchor="middle">35</text>
<line x1="23.65" y1="587.85" x2="26.15" y2="587.85" stroke="#2e2e2e" stroke-width="0.53"/>
<text transform="translate(22.05,589.60) rotate(.1)" class="k" text-anchor="end">0</text>
<line x1="23.65" y1="573.95" x2="26.15" y2="573.95" stroke="#2e2e2e" stroke-width="0.53"/>
<text transform="translate(22.05,575.70) rotate(.1)" class="k" text-anchor="end">25</text>
<line x1="23.65" y1="560.05" x2="26.15" y2="560.05" stroke="#2e2e2e" stroke-width="0.53"/>
<text transform="translate(22.05,561.80) rotate(.1)" class="k" text-anchor="end">50</text>
<line x1="23.65" y1="546.16" x2="26.15" y2="546.16" stroke="#2e2e2e" stroke-width="0.53"/>
<text transform="translate(22.05,547.91) rotate(.1)" class="k" text-anchor="end">75</text>
<line x1="23.65" y1="532.26" x2="26.15" y2="532.26" stroke="#2e2e2e" stroke-width="0.53"/>
<text transform="translate(22.05,534.01) rotate(.1)" class="k" text-anchor="end">100</text>
<line x1="23.65" y1="518.36" x2="26.15" y2="518.36" stroke="#2e2e2e" stroke-width="0.53"/>
<text transform="translate(22.05,520.11) rotate(.1)" class="k" text-anchor="end">125</text>
<line x1="23.65" y1="504.46" x2="26.15" y2="504.46" stroke="#2e2e2e" stroke-width="0.53"/>
<text transform="translate(22.05,506.21) rotate(.1)" class="k" text-anchor="end">150</text>
<line x1="23.65" y1="490.56" x2="26.15" y2="490.56" stroke="#2e2e2e" stroke-width="0.53"/>
<text transform="translate(22.05,492.31) rotate(.1)" class="k" text-anchor="end">175</text>
<line x1="23.65" y1="476.66" x2="26.15" y2="476.66" stroke="#2e2e2e" stroke-width="0.53"/>
<text transform="translate(22.05,478.41) rotate(.1)" class="k" text-anchor="end">200</text>
<text transform="translate(103.43,461.50) rotate(.1)" font-size="5.13" text-anchor="middle">NHEK Node Count Distribution</text>
<text transform="translate(103.43,602.95) rotate(.1)" font-size="5.13" text-anchor="middle">Number of Nodes</text>
<text transform="translate(10.15,525.98) rotate(-89.9)" font-size="5.13" text-anchor="middle">Frequency</text>
</g>
<g>
<rect x="215.44" y="469.99" width="1.68" height="117.86" fill="#55a868" fill-opacity="0.5" stroke="#fff" stroke-width="0.070"/>
<rect x="217.11" y="482.22" width="1.68" height="105.63" fill="#55a868" fill-opacity="0.5" stroke="#fff" stroke-width="0.070"/>
<rect x="220.46" y="532.26" width="1.68" height="55.59" fill="#55a868" fill-opacity="0.5" stroke="#fff" stroke-width="0.070"/>
<rect x="222.14" y="526.14" width="1.68" height="61.71" fill="#55a868" fill-opacity="0.5" stroke="#fff" stroke-width="0.070"/>
<rect x="225.49" y="575.62" width="1.68" height="12.23" fill="#55a868" fill-opacity="0.5" stroke="#fff" stroke-width="0.070"/>
<rect x="227.16" y="555.61" width="1.68" height="32.24" fill="#55a868" fill-opacity="0.5" stroke="#fff" stroke-width="0.070"/>
<rect x="230.51" y="583.40" width="1.68" height="4.45" fill="#55a868" fill-opacity="0.5" stroke="#fff" stroke-width="0.070"/>
<rect x="232.19" y="572.84" width="1.68" height="15.01" fill="#55a868" fill-opacity="0.5" stroke="#fff" stroke-width="0.070"/>
<rect x="235.54" y="585.63" width="1.68" height="2.22" fill="#55a868" fill-opacity="0.5" stroke="#fff" stroke-width="0.070"/>
<rect x="238.89" y="586.18" width="1.68" height="1.67" fill="#55a868" fill-opacity="0.5" stroke="#fff" stroke-width="0.070"/>
<rect x="240.57" y="587.29" width="1.68" height="0.56" fill="#55a868" fill-opacity="0.5" stroke="#fff" stroke-width="0.070"/>
<rect x="243.92" y="580.62" width="1.68" height="7.23" fill="#55a868" fill-opacity="0.5" stroke="#fff" stroke-width="0.070"/>
<rect x="245.59" y="586.74" width="1.68" height="1.11" fill="#55a868" fill-opacity="0.5" stroke="#fff" stroke-width="0.070"/>
<rect x="248.94" y="586.18" width="1.68" height="1.67" fill="#55a868" fill-opacity="0.5" stroke="#fff" stroke-width="0.070"/>
<rect x="250.62" y="583.40" width="1.68" height="4.45" fill="#55a868" fill-opacity="0.5" stroke="#fff" stroke-width="0.070"/>
<rect x="253.97" y="585.63" width="1.68" height="2.22" fill="#55a868" fill-opacity="0.5" stroke="#fff" stroke-width="0.070"/>
<rect x="255.64" y="586.18" width="1.68" height="1.67" fill="#55a868" fill-opacity="0.5" stroke="#fff" stroke-width="0.070"/>
<rect x="258.99" y="586.18" width="1.68" height="1.67" fill="#55a868" fill-opacity="0.5" stroke="#fff" stroke-width="0.070"/>
<rect x="262.35" y="586.74" width="1.68" height="1.11" fill="#55a868" fill-opacity="0.5" stroke="#fff" stroke-width="0.070"/>
<rect x="264.02" y="585.63" width="1.68" height="2.22" fill="#55a868" fill-opacity="0.5" stroke="#fff" stroke-width="0.070"/>
<rect x="267.37" y="587.29" width="1.68" height="0.56" fill="#55a868" fill-opacity="0.5" stroke="#fff" stroke-width="0.070"/>
<rect x="269.05" y="587.29" width="1.68" height="0.56" fill="#55a868" fill-opacity="0.5" stroke="#fff" stroke-width="0.070"/>
<rect x="274.07" y="587.29" width="1.68" height="0.56" fill="#55a868" fill-opacity="0.5" stroke="#fff" stroke-width="0.070"/>
<rect x="277.42" y="587.29" width="1.68" height="0.56" fill="#55a868" fill-opacity="0.5" stroke="#fff" stroke-width="0.070"/>
<rect x="285.80" y="587.29" width="1.68" height="0.56" fill="#55a868" fill-opacity="0.5" stroke="#fff" stroke-width="0.070"/>
<rect x="290.83" y="587.29" width="1.68" height="0.56" fill="#55a868" fill-opacity="0.5" stroke="#fff" stroke-width="0.070"/>
<rect x="305.90" y="587.29" width="1.68" height="0.56" fill="#55a868" fill-opacity="0.5" stroke="#fff" stroke-width="0.070"/>
<rect x="354.49" y="587.29" width="1.68" height="0.56" fill="#55a868" fill-opacity="0.5" stroke="#fff" stroke-width="0.070"/>
<polyline points="215.44,545.06 216.14,541.60 216.85,539.22 217.56,538.00 218.27,537.92 218.97,538.86 219.68,540.64 220.39,543.07 221.09,545.93 221.80,549.05 222.51,552.27 223.22,555.48 223.92,558.59 224.63,561.52 225.34,564.24 226.04,566.72 226.75,568.94 227.46,570.92 228.17,572.68 228.87,574.25 229.58,575.65 230.29,576.90 230.99,578.04 231.70,579.08 232.41,580.02 233.12,580.90 233.82,581.71 234.53,582.46 235.24,583.15 235.94,583.79 236.65,584.36 237.36,584.85 238.07,585.26 238.77,585.57 239.48,585.79 240.19,585.92 240.89,585.97 241.60,585.97 242.31,585.94 243.02,585.90 243.72,585.87 244.43,585.86 245.14,585.87 245.84,585.90 246.55,585.95 247.26,586.00 247.97,586.05 248.67,586.08 249.38,586.10 250.09,586.10 250.79,586.10 251.50,586.10 252.21,586.12 252.92,586.14 253.62,586.19 254.33,586.25 255.04,586.32 255.75,586.40 256.45,586.48 257.16,586.56 257.87,586.63 258.57,586.69 259.28,586.74 259.99,586.78 260.70,586.82 261.40,586.85 262.11,586.87 262.82,586.90 263.52,586.93 264.23,586.96 264.94,587.00 265.65,587.06 266.35,587.12 267.06,587.18 267.77,587.25 268.47,587.32 269.18,587.38 269.89,587.44 270.60,587.49 271.30,587.53 272.01,587.56 272.72,587.58 273.42,587.60 274.13,587.61 274.84,587.61 275.55,587.61 276.25,587.62 276.96,587.63 277.67,587.64 278.37,587.65 279.08,587.67 279.79,587.68 280.50,587.70 281.20,587.71 281.91,587.72 282.62,587.72 283.32,587.72 284.03,587.71 284.74,587.71 285.45,587.70 286.15,587.70 286.86,587.69 287.57,587.69 288.28,587.69 288.98,587.69 289.69,587.69 290.40,587.70 291.10,587.71 291.81,587.72 292.52,587.74 293.23,587.75 293.93,587.77 294.64,587.78 295.35,587.80 296.05,587.81 296.76,587.82 297.47,587.83 298.18,587.83 298.88,587.83 299.59,587.83 300.30,587.83 301.00,587.82 301.71,587.81 302.42,587.80 303.13,587.79 303.83,587.77 304.54,587.76 305.25,587.75 305.95,587.74 306.66,587.74 307.37,587.74 308.08,587.75 308.78,587.76 309.49,587.77 310.20,587.79 310.90,587.80 311.61,587.81 312.32,587.82 313.03,587.83 313.73,587.84 314.44,587.84 315.15,587.85 315.85,587.85 316.56,587.85 317.27,587.85 317.98,587.85 318.68,587.85 319.39,587.85 320.10,587.85 320.81,587.85 321.51,587.85 322.22,587.85 322.93,587.85 323.63,587.85 324.34,587.85 325.05,587.85 325.76,587.85 326.46,587.85 327.17,587.85 327.88,587.85 328.58,587.85 329.29,587.85 330.00,587.85 330.71,587.85 331.41,587.85 332.12,587.85 332.83,587.85 333.53,587.85 334.24,587.85 334.95,587.85 335.66,587.85 336.36,587.85 337.07,587.85 337.78,587.85 338.48,587.85 339.19,587.85 339.90,587.85 340.61,587.85 341.31,587.85 342.02,587.85 342.73,587.85 343.43,587.85 344.14,587.85 344.85,587.85 345.56,587.85 346.26,587.85 346.97,587.85 347.68,587.85 348.38,587.84 349.09,587.84 349.80,587.83 350.51,587.82 351.21,587.81 351.92,587.80 352.63,587.79 353.33,587.77 354.04,587.76 354.75,587.75 355.46,587.74 356.16,587.74" fill="none" stroke="#55a868" stroke-width="0.8" stroke-linejoin="round" stroke-linecap="round"/>
<rect x="208.40" y="464.10" width="154.80" height="123.75" fill="none" stroke="#2e2e2e" stroke-width="0.58"/>
<line x1="212.83" y1="587.85" x2="212.83" y2="590.35" stroke="#2e2e2e" stroke-width="0.53"/>
<text transform="translate(212.83,595.90) rotate(.1)" class="k" text-anchor="middle">0</text>
<line x1="238.89" y1="587.85" x2="238.89" y2="590.35" stroke="#2e2e2e" stroke-width="0.53"/>
<text transform="translate(238.89,595.90) rotate(.1)" class="k" text-anchor="middle">10</text>
<line x1="264.95" y1="587.85" x2="264.95" y2="590.35" stroke="#2e2e2e" stroke-width="0.53"/>
<text transform="translate(264.95,595.90) rotate(.1)" class="k" text-anchor="middle">20</text>
<line x1="291.01" y1="587.85" x2="291.01" y2="590.35" stroke="#2e2e2e" stroke-width="0.53"/>
<text transform="translate(291.01,595.90) rotate(.1)" class="k" text-anchor="middle">30</text>
<line x1="317.07" y1="587.85" x2="317.07" y2="590.35" stroke="#2e2e2e" stroke-width="0.53"/>
<text transform="translate(317.07,595.90) rotate(.1)" class="k" text-anchor="middle">40</text>
<line x1="343.13" y1="587.85" x2="343.13" y2="590.35" stroke="#2e2e2e" stroke-width="0.53"/>
<text transform="translate(343.13,595.90) rotate(.1)" class="k" text-anchor="middle">50</text>
<line x1="205.90" y1="587.85" x2="208.40" y2="587.85" stroke="#2e2e2e" stroke-width="0.53"/>
<text transform="translate(204.30,589.60) rotate(.1)" class="k" text-anchor="end">0</text>
<line x1="205.90" y1="573.95" x2="208.40" y2="573.95" stroke="#2e2e2e" stroke-width="0.53"/>
<text transform="translate(204.30,575.70) rotate(.1)" class="k" text-anchor="end">25</text>
<line x1="205.90" y1="560.05" x2="208.40" y2="560.05" stroke="#2e2e2e" stroke-width="0.53"/>
<text transform="translate(204.30,561.80) rotate(.1)" class="k" text-anchor="end">50</text>
<line x1="205.90" y1="546.16" x2="208.40" y2="546.16" stroke="#2e2e2e" stroke-width="0.53"/>
<text transform="translate(204.30,547.91) rotate(.1)" class="k" text-anchor="end">75</text>
<line x1="205.90" y1="532.26" x2="208.40" y2="532.26" stroke="#2e2e2e" stroke-width="0.53"/>
<text transform="translate(204.30,534.01) rotate(.1)" class="k" text-anchor="end">100</text>
<line x1="205.90" y1="518.36" x2="208.40" y2="518.36" stroke="#2e2e2e" stroke-width="0.53"/>
<text transform="translate(204.30,520.11) rotate(.1)" class="k" text-anchor="end">125</text>
<line x1="205.90" y1="504.46" x2="208.40" y2="504.46" stroke="#2e2e2e" stroke-width="0.53"/>
<text transform="translate(204.30,506.21) rotate(.1)" class="k" text-anchor="end">150</text>
<line x1="205.90" y1="490.56" x2="208.40" y2="490.56" stroke="#2e2e2e" stroke-width="0.53"/>
<text transform="translate(204.30,492.31) rotate(.1)" class="k" text-anchor="end">175</text>
<line x1="205.90" y1="476.66" x2="208.40" y2="476.66" stroke="#2e2e2e" stroke-width="0.53"/>
<text transform="translate(204.30,478.41) rotate(.1)" class="k" text-anchor="end">200</text>
<text transform="translate(285.80,461.50) rotate(.1)" font-size="5.13" text-anchor="middle">NHEK Edge Count Distribution</text>
<text transform="translate(285.80,602.95) rotate(.1)" font-size="5.13" text-anchor="middle">Number of Edges</text>
<text transform="translate(192.40,525.98) rotate(-89.9)" font-size="5.13" text-anchor="middle">Frequency</text>
</g>
<g>
<rect x="398.34" y="469.99" width="3.80" height="117.86" fill="#800080" fill-opacity="0.5" stroke="#fff" stroke-width="0.362"/>
<rect x="405.94" y="482.22" width="3.80" height="105.63" fill="#800080" fill-opacity="0.5" stroke="#fff" stroke-width="0.362"/>
<rect x="409.75" y="502.79" width="3.80" height="85.06" fill="#800080" fill-opacity="0.5" stroke="#fff" stroke-width="0.362"/>
<rect x="413.55" y="559.50" width="3.80" height="28.35" fill="#800080" fill-opacity="0.5" stroke="#fff" stroke-width="0.362"/>
<rect x="417.35" y="583.40" width="3.80" height="4.45" fill="#800080" fill-opacity="0.5" stroke="#fff" stroke-width="0.362"/>
<rect x="421.16" y="553.94" width="3.80" height="33.91" fill="#800080" fill-opacity="0.5" stroke="#fff" stroke-width="0.362"/>
<rect x="428.76" y="562.83" width="3.80" height="25.02" fill="#800080" fill-opacity="0.5" stroke="#fff" stroke-width="0.362"/>
<rect x="436.37" y="577.29" width="3.80" height="10.56" fill="#800080" fill-opacity="0.5" stroke="#fff" stroke-width="0.362"/>
<rect x="440.17" y="584.51" width="3.80" height="3.34" fill="#800080" fill-opacity="0.5" stroke="#fff" stroke-width="0.362"/>
<rect x="443.98" y="580.07" width="3.80" height="7.78" fill="#800080" fill-opacity="0.5" stroke="#fff" stroke-width="0.362"/>
<rect x="447.78" y="585.63" width="3.80" height="2.22" fill="#800080" fill-opacity="0.5" stroke="#fff" stroke-width="0.362"/>
<rect x="451.58" y="586.18" width="3.80" height="1.67" fill="#800080" fill-opacity="0.5" stroke="#fff" stroke-width="0.362"/>
<rect x="455.39" y="586.18" width="3.80" height="1.67" fill="#800080" fill-opacity="0.5" stroke="#fff" stroke-width="0.362"/>
<rect x="462.99" y="584.51" width="3.80" height="3.34" fill="#800080" fill-opacity="0.5" stroke="#fff" stroke-width="0.362"/>
<rect x="466.80" y="586.74" width="3.80" height="1.11" fill="#800080" fill-opacity="0.5" stroke="#fff" stroke-width="0.362"/>
<rect x="474.41" y="587.29" width="3.80" height="0.56" fill="#800080" fill-opacity="0.5" stroke="#fff" stroke-width="0.362"/>
<rect x="478.21" y="587.29" width="3.80" height="0.56" fill="#800080" fill-opacity="0.5" stroke="#fff" stroke-width="0.362"/>
<rect x="493.42" y="587.29" width="3.80" height="0.56" fill="#800080" fill-opacity="0.5" stroke="#fff" stroke-width="0.362"/>
<rect x="535.26" y="587.29" width="3.80" height="0.56" fill="#800080" fill-opacity="0.5" stroke="#fff" stroke-width="0.362"/>
<polyline points="398.34,538.05 399.04,536.30 399.75,535.17 400.46,534.47 401.17,533.96 401.87,533.42 402.58,532.68 403.29,531.63 403.99,530.27 404.70,528.70 405.41,527.05 406.12,525.53 406.82,524.34 407.53,523.64 408.24,523.56 408.94,524.16 409.65,525.47 410.36,527.44 411.07,530.00 411.77,533.04 412.48,536.44 413.19,540.08 413.89,543.82 414.60,547.53 415.31,551.10 416.02,554.42 416.72,557.42 417.43,560.05 418.14,562.28 418.84,564.14 419.55,565.66 420.26,566.93 420.97,568.01 421.67,568.98 422.38,569.90 423.09,570.80 423.79,571.70 424.50,572.59 425.21,573.42 425.92,574.17 426.62,574.81 427.33,575.31 428.04,575.69 428.74,575.96 429.45,576.16 430.16,576.34 430.87,576.54 431.57,576.78 432.28,577.10 432.99,577.50 433.69,577.95 434.40,578.44 435.11,578.94 435.82,579.42 436.52,579.88 437.23,580.29 437.94,580.65 438.65,580.95 439.35,581.22 440.06,581.44 440.77,581.62 441.47,581.78 442.18,581.91 442.89,582.02 443.60,582.12 444.30,582.23 445.01,582.36 445.72,582.51 446.42,582.69 447.13,582.91 447.84,583.18 448.55,583.48 449.25,583.80 449.96,584.14 450.67,584.47 451.37,584.80 452.08,585.09 452.79,585.36 453.50,585.60 454.20,585.80 454.91,585.97 455.62,586.11 456.32,586.23 457.03,586.32 457.74,586.39 458.45,586.43 459.15,586.44 459.86,586.44 460.57,586.41 461.27,586.37 461.98,586.32 462.69,586.27 463.40,586.23 464.10,586.20 464.81,586.20 465.52,586.23 466.22,586.29 466.93,586.37 467.64,586.47 468.35,586.59 469.05,586.72 469.76,586.85 470.47,586.97 471.18,587.08 471.88,587.18 472.59,587.25 473.30,587.32 474.00,587.36 474.71,587.40 475.42,587.42 476.13,587.44 476.83,587.45 477.54,587.47 478.25,587.48 478.95,587.50 479.66,587.52 480.37,587.55 481.08,587.57 481.78,587.60 482.49,587.63 483.20,587.66 483.90,587.69 484.61,587.71 485.32,587.73 486.03,587.75 486.73,587.76 487.44,587.76 488.15,587.76 488.85,587.75 489.56,587.73 490.27,587.72 490.98,587.70 491.68,587.68 492.39,587.67 493.10,587.65 493.80,587.65 494.51,587.64 495.22,587.65 495.93,587.66 496.63,587.67 497.34,587.69 498.05,587.71 498.75,587.73 499.46,587.75 500.17,587.77 500.88,587.79 501.58,587.81 502.29,587.82 503.00,587.83 503.71,587.83 504.41,587.84 505.12,587.84 505.83,587.85 506.53,587.85 507.24,587.85 507.95,587.85 508.66,587.85 509.36,587.85 510.07,587.85 510.78,587.85 511.48,587.85 512.19,587.85 512.90,587.85 513.61,587.85 514.31,587.85 515.02,587.85 515.73,587.85 516.43,587.85 517.14,587.85 517.85,587.85 518.56,587.85 519.26,587.85 519.97,587.85 520.68,587.85 521.38,587.85 522.09,587.85 522.80,587.85 523.51,587.85 524.21,587.85 524.92,587.85 525.63,587.85 526.33,587.85 527.04,587.85 527.75,587.85 528.46,587.84 529.16,587.84 529.87,587.83 530.58,587.83 531.28,587.82 531.99,587.80 532.70,587.79 533.41,587.77 534.11,587.75 534.82,587.73 535.53,587.71 536.23,587.69 536.94,587.67 537.65,587.66 538.36,587.65 539.06,587.64" fill="none" stroke="#800080" stroke-width="0.8" stroke-linejoin="round" stroke-linecap="round"/>
<rect x="391.30" y="464.10" width="154.80" height="123.75" fill="none" stroke="#2e2e2e" stroke-width="0.58"/>
<line x1="398.34" y1="587.85" x2="398.34" y2="590.35" stroke="#2e2e2e" stroke-width="0.53"/>
<text transform="translate(398.34,595.90) rotate(.1)" class="k" text-anchor="middle">1</text>
<line x1="422.36" y1="587.85" x2="422.36" y2="590.35" stroke="#2e2e2e" stroke-width="0.53"/>
<text transform="translate(422.36,595.90) rotate(.1)" class="k" text-anchor="middle">2</text>
<line x1="446.39" y1="587.85" x2="446.39" y2="590.35" stroke="#2e2e2e" stroke-width="0.53"/>
<text transform="translate(446.39,595.90) rotate(.1)" class="k" text-anchor="middle">3</text>
<line x1="470.42" y1="587.85" x2="470.42" y2="590.35" stroke="#2e2e2e" stroke-width="0.53"/>
<text transform="translate(470.42,595.90) rotate(.1)" class="k" text-anchor="middle">4</text>
<line x1="494.44" y1="587.85" x2="494.44" y2="590.35" stroke="#2e2e2e" stroke-width="0.53"/>
<text transform="translate(494.44,595.90) rotate(.1)" class="k" text-anchor="middle">5</text>
<line x1="518.47" y1="587.85" x2="518.47" y2="590.35" stroke="#2e2e2e" stroke-width="0.53"/>
<text transform="translate(518.47,595.90) rotate(.1)" class="k" text-anchor="middle">6</text>
<line x1="542.50" y1="587.85" x2="542.50" y2="590.35" stroke="#2e2e2e" stroke-width="0.53"/>
<text transform="translate(542.50,595.90) rotate(.1)" class="k" text-anchor="middle">7</text>
<line x1="388.80" y1="587.85" x2="391.30" y2="587.85" stroke="#2e2e2e" stroke-width="0.53"/>
<text transform="translate(387.20,589.60) rotate(.1)" class="k" text-anchor="end">0</text>
<line x1="388.80" y1="573.95" x2="391.30" y2="573.95" stroke="#2e2e2e" stroke-width="0.53"/>
<text transform="translate(387.20,575.70) rotate(.1)" class="k" text-anchor="end">25</text>
<line x1="388.80" y1="560.05" x2="391.30" y2="560.05" stroke="#2e2e2e" stroke-width="0.53"/>
<text transform="translate(387.20,561.80) rotate(.1)" class="k" text-anchor="end">50</text>
<line x1="388.80" y1="546.16" x2="391.30" y2="546.16" stroke="#2e2e2e" stroke-width="0.53"/>
<text transform="translate(387.20,547.91) rotate(.1)" class="k" text-anchor="end">75</text>
<line x1="388.80" y1="532.26" x2="391.30" y2="532.26" stroke="#2e2e2e" stroke-width="0.53"/>
<text transform="translate(387.20,534.01) rotate(.1)" class="k" text-anchor="end">100</text>
<line x1="388.80" y1="518.36" x2="391.30" y2="518.36" stroke="#2e2e2e" stroke-width="0.53"/>
<text transform="translate(387.20,520.11) rotate(.1)" class="k" text-anchor="end">125</text>
<line x1="388.80" y1="504.46" x2="391.30" y2="504.46" stroke="#2e2e2e" stroke-width="0.53"/>
<text transform="translate(387.20,506.21) rotate(.1)" class="k" text-anchor="end">150</text>
<line x1="388.80" y1="490.56" x2="391.30" y2="490.56" stroke="#2e2e2e" stroke-width="0.53"/>
<text transform="translate(387.20,492.31) rotate(.1)" class="k" text-anchor="end">175</text>
<line x1="388.80" y1="476.66" x2="391.30" y2="476.66" stroke="#2e2e2e" stroke-width="0.53"/>
<text transform="translate(387.20,478.41) rotate(.1)" class="k" text-anchor="end">200</text>
<text transform="translate(468.70,461.50) rotate(.1)" font-size="5.13" text-anchor="middle">NHEK Average Degree Distribution</text>
<text transform="translate(468.70,602.95) rotate(.1)" font-size="5.13" text-anchor="middle">Average Degree</text>
<text transform="translate(375.30,525.98) rotate(-89.9)" font-size="5.13" text-anchor="middle">Frequency</text>
</g>
<text transform="translate(3.1,463.40) rotate(.1)" font-size="6.8" fill="#111" stroke="#111" stroke-width=".12">D</text>
</svg>
</body></html>
